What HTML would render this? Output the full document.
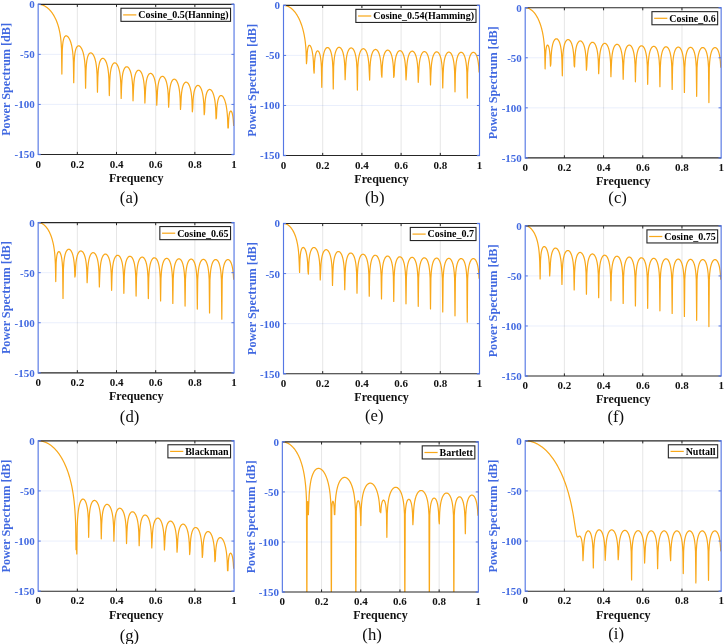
<!DOCTYPE html>
<html lang="en"><head><meta charset="utf-8"><title>Window power spectra</title>
<style>html,body{margin:0;padding:0;background:#fff;}body{width:725px;height:644px;overflow:hidden;}svg{display:block;}text{font-family:'Liberation Serif',serif;}.tk{font-size:11px;font-weight:bold;}.lb{font-size:12px;font-weight:bold;}.yl{font-size:12.2px;}.lg{font-size:10px;font-weight:bold;fill:#000;}.cp{font-size:16.7px;fill:#0d0d0d;}.bl{fill:#4169E1;}.bk{fill:#111;}</style></head><body>
<svg width="725" height="644" viewBox="0 0 725 644">
<rect width="725" height="644" fill="#fff"/>
<g id="panel-a">
<clipPath id="clip-a"><rect x="38.15" y="4.3" width="195.9" height="150.2"/></clipPath>
<line x1="77.33" y1="4.3" x2="77.33" y2="154.5" stroke="rgba(38,38,38,0.115)" stroke-width="1"/>
<line x1="116.51" y1="4.3" x2="116.51" y2="154.5" stroke="rgba(38,38,38,0.115)" stroke-width="1"/>
<line x1="155.69" y1="4.3" x2="155.69" y2="154.5" stroke="rgba(38,38,38,0.115)" stroke-width="1"/>
<line x1="194.87" y1="4.3" x2="194.87" y2="154.5" stroke="rgba(38,38,38,0.115)" stroke-width="1"/>
<line x1="38.15" y1="54.37" x2="234.05" y2="54.37" stroke="rgba(65,105,225,0.11)" stroke-width="1"/>
<line x1="38.15" y1="104.43" x2="234.05" y2="104.43" stroke="rgba(65,105,225,0.11)" stroke-width="1"/>
<path d="M38.15 4.3 L38.53 4.31 L38.92 4.32 L39.3 4.35 L39.68 4.39 L40.06 4.45 L40.45 4.51 L40.83 4.59 L41.21 4.67 L41.59 4.77 L41.98 4.89 L42.36 5.01 L42.74 5.15 L43.12 5.3 L43.51 5.46 L43.89 5.63 L44.27 5.82 L44.65 6.02 L45.04 6.23 L45.42 6.46 L45.8 6.7 L46.18 6.95 L46.57 7.22 L46.95 7.5 L47.33 7.8 L47.72 8.11 L48.1 8.43 L48.48 8.78 L48.86 9.14 L49.25 9.51 L49.63 9.91 L50.01 10.32 L50.39 10.75 L50.78 11.19 L51.16 11.66 L51.54 12.15 L51.92 12.66 L52.31 13.19 L52.69 13.75 L53.07 14.33 L53.45 14.94 L53.84 15.58 L54.22 16.24 L54.6 16.94 L54.99 17.68 L55.37 18.45 L55.75 19.26 L56.13 20.12 L56.52 21.03 L56.9 21.99 L57.28 23.02 L57.66 24.12 L58.05 25.3 L58.43 26.58 L58.81 27.98 L59.19 29.53 L59.58 31.27 L59.96 33.27 L60.34 35.62 L60.72 38.54 L61.11 42.45 L61.49 48.71 L61.87 74.11 L62.25 50.79 L62.64 45.03 L63.02 41.97 L63.4 40 L63.79 38.63 L64.17 37.65 L64.55 36.94 L64.93 36.44 L65.32 36.1 L65.7 35.9 L66.08 35.81 L66.46 35.84 L66.85 35.95 L67.23 36.16 L67.61 36.45 L67.99 36.82 L68.38 37.27 L68.76 37.82 L69.14 38.45 L69.52 39.17 L69.91 40 L70.29 40.95 L70.67 42.04 L71.06 43.29 L71.44 44.74 L71.82 46.46 L72.2 48.54 L72.59 51.19 L72.97 54.83 L73.35 60.75 L73.73 82.65 L74.12 62.94 L74.5 56.82 L74.88 53.53 L75.26 51.35 L75.65 49.79 L76.03 48.63 L76.41 47.74 L76.79 47.07 L77.18 46.58 L77.56 46.22 L77.94 45.99 L78.32 45.87 L78.71 45.84 L79.09 45.91 L79.47 46.07 L79.86 46.32 L80.24 46.65 L80.62 47.07 L81 47.58 L81.39 48.2 L81.77 48.91 L82.15 49.75 L82.53 50.73 L82.92 51.87 L83.3 53.22 L83.68 54.83 L84.06 56.81 L84.45 59.35 L84.83 62.85 L85.21 68.57 L85.59 88.13 L85.98 71.13 L86.36 64.78 L86.74 61.35 L87.12 59.07 L87.51 57.42 L87.89 56.17 L88.27 55.21 L88.66 54.46 L89.04 53.89 L89.42 53.46 L89.8 53.16 L90.19 52.97 L90.57 52.88 L90.95 52.88 L91.33 52.97 L91.72 53.16 L92.1 53.43 L92.48 53.79 L92.86 54.24 L93.25 54.79 L93.63 55.45 L94.01 56.23 L94.39 57.15 L94.78 58.24 L95.16 59.52 L95.54 61.08 L95.93 62.99 L96.31 65.46 L96.69 68.87 L97.07 74.44 L97.46 92.23 L97.84 77.43 L98.22 70.87 L98.6 67.35 L98.99 65.01 L99.37 63.3 L99.75 61.99 L100.13 60.98 L100.52 60.19 L100.9 59.57 L101.28 59.1 L101.66 58.75 L102.05 58.52 L102.43 58.39 L102.81 58.35 L103.19 58.41 L103.58 58.55 L103.96 58.78 L104.34 59.1 L104.73 59.52 L105.11 60.03 L105.49 60.65 L105.87 61.4 L106.26 62.28 L106.64 63.32 L107.02 64.57 L107.4 66.08 L107.79 67.96 L108.17 70.37 L108.55 73.72 L108.93 79.15 L109.32 95.55 L109.7 82.62 L110.08 75.86 L110.46 72.26 L110.85 69.86 L111.23 68.11 L111.61 66.77 L112 65.72 L112.38 64.9 L112.76 64.25 L113.14 63.75 L113.53 63.37 L113.91 63.11 L114.29 62.95 L114.67 62.88 L115.06 62.91 L115.44 63.03 L115.82 63.23 L116.2 63.53 L116.59 63.92 L116.97 64.4 L117.35 65 L117.73 65.72 L118.12 66.57 L118.5 67.59 L118.88 68.81 L119.26 70.29 L119.65 72.13 L120.03 74.5 L120.41 77.79 L120.8 83.1 L121.18 98.36 L121.56 87.08 L121.94 80.12 L122.33 76.44 L122.71 74 L123.09 72.21 L123.47 70.84 L123.86 69.77 L124.24 68.92 L124.62 68.25 L125 67.73 L125.39 67.33 L125.77 67.05 L126.15 66.87 L126.53 66.78 L126.92 66.79 L127.3 66.89 L127.68 67.07 L128.07 67.35 L128.45 67.72 L128.83 68.19 L129.21 68.76 L129.6 69.46 L129.98 70.3 L130.36 71.29 L130.74 72.49 L131.13 73.95 L131.51 75.76 L131.89 78.1 L132.27 81.33 L132.66 86.53 L133.04 100.83 L133.42 91.04 L133.8 83.87 L134.19 80.13 L134.57 77.64 L134.95 75.83 L135.33 74.44 L135.72 73.34 L136.1 72.47 L136.48 71.78 L136.87 71.24 L137.25 70.83 L137.63 70.53 L138.01 70.34 L138.4 70.24 L138.78 70.23 L139.16 70.31 L139.54 70.48 L139.93 70.75 L140.31 71.1 L140.69 71.56 L141.07 72.12 L141.46 72.8 L141.84 73.62 L142.22 74.6 L142.6 75.79 L142.99 77.22 L143.37 79.01 L143.75 81.32 L144.13 84.51 L144.52 89.6 L144.9 103.08 L145.28 94.65 L145.67 87.27 L146.05 83.46 L146.43 80.94 L146.81 79.1 L147.2 77.69 L147.58 76.58 L147.96 75.7 L148.34 74.99 L148.73 74.44 L149.11 74.02 L149.49 73.71 L149.87 73.5 L150.26 73.39 L150.64 73.37 L151.02 73.44 L151.4 73.6 L151.79 73.86 L152.17 74.2 L152.55 74.65 L152.94 75.2 L153.32 75.87 L153.7 76.68 L154.08 77.65 L154.47 78.82 L154.85 80.24 L155.23 82.01 L155.61 84.29 L156 87.44 L156.38 92.43 L156.76 105.19 L157.14 98.05 L157.53 90.44 L157.91 86.57 L158.29 84.01 L158.67 82.15 L159.06 80.73 L159.44 79.6 L159.82 78.71 L160.2 78 L160.59 77.43 L160.97 77 L161.35 76.68 L161.74 76.47 L162.12 76.35 L162.5 76.33 L162.88 76.39 L163.27 76.55 L163.65 76.79 L164.03 77.13 L164.41 77.57 L164.8 78.11 L165.18 78.78 L165.56 79.58 L165.94 80.54 L166.33 81.7 L166.71 83.11 L167.09 84.86 L167.47 87.12 L167.86 90.23 L168.24 95.14 L168.62 107.26 L169.01 101.33 L169.39 93.49 L169.77 89.56 L170.15 86.98 L170.54 85.1 L170.92 83.66 L171.3 82.52 L171.68 81.62 L172.07 80.9 L172.45 80.34 L172.83 79.9 L173.21 79.58 L173.6 79.36 L173.98 79.24 L174.36 79.21 L174.74 79.27 L175.13 79.43 L175.51 79.67 L175.89 80 L176.27 80.44 L176.66 80.98 L177.04 81.64 L177.42 82.44 L177.81 83.4 L178.19 84.55 L178.57 85.95 L178.95 87.7 L179.34 89.94 L179.72 93.02 L180.1 97.84 L180.48 109.4 L180.87 104.64 L181.25 96.55 L181.63 92.56 L182.01 89.96 L182.4 88.06 L182.78 86.62 L183.16 85.48 L183.54 84.58 L183.93 83.86 L184.31 83.29 L184.69 82.85 L185.08 82.53 L185.46 82.31 L185.84 82.2 L186.22 82.17 L186.61 82.24 L186.99 82.39 L187.37 82.64 L187.75 82.98 L188.14 83.41 L188.52 83.96 L188.9 84.62 L189.28 85.42 L189.67 86.38 L190.05 87.54 L190.43 88.94 L190.81 90.68 L191.2 92.91 L191.58 95.96 L191.96 100.72 L192.34 111.78 L192.73 108.15 L193.11 99.81 L193.49 95.77 L193.88 93.14 L194.26 91.24 L194.64 89.8 L195.02 88.66 L195.41 87.77 L195.79 87.05 L196.17 86.49 L196.55 86.07 L196.94 85.76 L197.32 85.55 L197.7 85.45 L198.08 85.43 L198.47 85.51 L198.85 85.68 L199.23 85.94 L199.61 86.29 L200 86.74 L200.38 87.3 L200.76 87.98 L201.14 88.8 L201.53 89.77 L201.91 90.94 L202.29 92.35 L202.68 94.1 L203.06 96.34 L203.44 99.38 L203.82 104.07 L204.21 114.71 L204.59 112.18 L204.97 103.59 L205.35 99.51 L205.74 96.88 L206.12 95 L206.5 93.57 L206.88 92.45 L207.27 91.58 L207.65 90.89 L208.03 90.36 L208.41 89.97 L208.8 89.69 L209.18 89.51 L209.56 89.44 L209.95 89.46 L210.33 89.58 L210.71 89.78 L211.09 90.08 L211.48 90.47 L211.86 90.97 L212.24 91.57 L212.62 92.29 L213.01 93.15 L213.39 94.17 L213.77 95.38 L214.15 96.84 L214.54 98.64 L214.92 100.91 L215.3 103.98 L215.68 108.67 L216.07 118.95 L216.45 117.56 L216.83 108.73 L217.21 104.66 L217.6 102.08 L217.98 100.25 L218.36 98.9 L218.75 97.86 L219.13 97.07 L219.51 96.47 L219.89 96.04 L220.28 95.74 L220.66 95.56 L221.04 95.5 L221.42 95.54 L221.81 95.68 L222.19 95.92 L222.57 96.26 L222.95 96.7 L223.34 97.25 L223.72 97.9 L224.1 98.67 L224.48 99.57 L224.87 100.61 L225.25 101.83 L225.63 103.25 L226.02 104.94 L226.4 106.97 L226.78 109.49 L227.16 112.82 L227.55 117.74 L227.93 127.97 L228.31 128.01 L228.69 119.26 L229.08 115.56 L229.46 113.44 L229.84 112.14 L230.22 111.38 L230.61 111.04 L230.99 111.04 L231.37 111.36 L231.75 112.02 L232.14 113.06 L232.52 114.57 L232.9 116.75 L233.28 120.05 L233.67 125.94" fill="none" stroke="#F9A81A" stroke-width="1.22" stroke-linejoin="round" clip-path="url(#clip-a)"/>
<line x1="38.15" y1="4.3" x2="234.05" y2="4.3" stroke="#262626" stroke-width="1.15"/>
<line x1="38.15" y1="154.5" x2="234.05" y2="154.5" stroke="#262626" stroke-width="1.15"/>
<line x1="77.33" y1="4.3" x2="77.33" y2="6.9" stroke="#262626" stroke-width="1"/>
<line x1="77.33" y1="154.5" x2="77.33" y2="151.9" stroke="#262626" stroke-width="1"/>
<line x1="116.51" y1="4.3" x2="116.51" y2="6.9" stroke="#262626" stroke-width="1"/>
<line x1="116.51" y1="154.5" x2="116.51" y2="151.9" stroke="#262626" stroke-width="1"/>
<line x1="155.69" y1="4.3" x2="155.69" y2="6.9" stroke="#262626" stroke-width="1"/>
<line x1="155.69" y1="154.5" x2="155.69" y2="151.9" stroke="#262626" stroke-width="1"/>
<line x1="194.87" y1="4.3" x2="194.87" y2="6.9" stroke="#262626" stroke-width="1"/>
<line x1="194.87" y1="154.5" x2="194.87" y2="151.9" stroke="#262626" stroke-width="1"/>
<line x1="38.15" y1="4.3" x2="38.15" y2="154.5" stroke="#5577E4" stroke-width="1.15" stroke-linecap="square"/>
<line x1="234.05" y1="4.3" x2="234.05" y2="154.5" stroke="#5577E4" stroke-width="1.15" stroke-linecap="square"/>
<line x1="38.15" y1="4.3" x2="40.75" y2="4.3" stroke="#5577E4" stroke-width="1.3"/>
<line x1="234.05" y1="4.3" x2="231.45" y2="4.3" stroke="#5577E4" stroke-width="1.3"/>
<line x1="38.15" y1="54.37" x2="40.75" y2="54.37" stroke="#5577E4" stroke-width="1"/>
<line x1="234.05" y1="54.37" x2="231.45" y2="54.37" stroke="#5577E4" stroke-width="1"/>
<line x1="38.15" y1="104.43" x2="40.75" y2="104.43" stroke="#5577E4" stroke-width="1"/>
<line x1="234.05" y1="104.43" x2="231.45" y2="104.43" stroke="#5577E4" stroke-width="1"/>
<line x1="38.15" y1="154.5" x2="40.75" y2="154.5" stroke="#5577E4" stroke-width="1.3"/>
<line x1="234.05" y1="154.5" x2="231.45" y2="154.5" stroke="#5577E4" stroke-width="1.3"/>
<text class="tk bk" x="38.15" y="167.5" text-anchor="middle">0</text>
<text class="tk bk" x="77.33" y="167.5" text-anchor="middle">0.2</text>
<text class="tk bk" x="116.51" y="167.5" text-anchor="middle">0.4</text>
<text class="tk bk" x="155.69" y="167.5" text-anchor="middle">0.6</text>
<text class="tk bk" x="194.87" y="167.5" text-anchor="middle">0.8</text>
<text class="tk bk" x="234.05" y="167.5" text-anchor="middle">1</text>
<text class="tk bl" x="34.75" y="8.25" text-anchor="end">0</text>
<text class="tk bl" x="34.75" y="58.32" text-anchor="end">-50</text>
<text class="tk bl" x="34.75" y="108.38" text-anchor="end">-100</text>
<text class="tk bl" x="34.75" y="158.45" text-anchor="end">-150</text>
<text class="lb bk" x="136.2" y="181.9" text-anchor="middle">Frequency</text>
<text class="lb yl bl" transform="translate(10.25 79.4) rotate(-90)" text-anchor="middle">Power Spectrum [dB]</text>
<rect x="120.95" y="8.25" width="109.6" height="13.1" fill="#fff" stroke="#262626" stroke-width="1.1"/>
<line x1="123.15" y1="14.9" x2="136.35" y2="14.9" stroke="#F9A81A" stroke-width="1.22"/>
<text class="lg" x="138.25" y="18.25">Cosine_0.5(Hanning)</text>
<text class="cp" x="129.1" y="202.7" text-anchor="middle">(a)</text>
</g>
<g id="panel-b">
<clipPath id="clip-b"><rect x="283.5" y="5.4" width="196" height="150.1"/></clipPath>
<line x1="322.7" y1="5.4" x2="322.7" y2="155.5" stroke="rgba(38,38,38,0.115)" stroke-width="1"/>
<line x1="361.9" y1="5.4" x2="361.9" y2="155.5" stroke="rgba(38,38,38,0.115)" stroke-width="1"/>
<line x1="401.1" y1="5.4" x2="401.1" y2="155.5" stroke="rgba(38,38,38,0.115)" stroke-width="1"/>
<line x1="440.3" y1="5.4" x2="440.3" y2="155.5" stroke="rgba(38,38,38,0.115)" stroke-width="1"/>
<line x1="283.5" y1="55.43" x2="479.5" y2="55.43" stroke="rgba(65,105,225,0.11)" stroke-width="1"/>
<line x1="283.5" y1="105.47" x2="479.5" y2="105.47" stroke="rgba(65,105,225,0.11)" stroke-width="1"/>
<path d="M283.5 5.4 L283.88 5.41 L284.27 5.43 L284.65 5.46 L285.03 5.51 L285.41 5.58 L285.8 5.65 L286.18 5.74 L286.56 5.85 L286.95 5.97 L287.33 6.1 L287.71 6.25 L288.09 6.42 L288.48 6.6 L288.86 6.79 L289.24 7 L289.62 7.23 L290.01 7.47 L290.39 7.72 L290.77 8 L291.16 8.28 L291.54 8.59 L291.92 8.91 L292.3 9.25 L292.69 9.61 L293.07 9.99 L293.45 10.39 L293.84 10.8 L294.22 11.24 L294.6 11.69 L294.98 12.17 L295.37 12.67 L295.75 13.2 L296.13 13.74 L296.52 14.31 L296.9 14.91 L297.28 15.54 L297.66 16.19 L298.05 16.87 L298.43 17.59 L298.81 18.34 L299.2 19.12 L299.58 19.95 L299.96 20.81 L300.34 21.73 L300.73 22.69 L301.11 23.7 L301.49 24.78 L301.88 25.92 L302.26 27.14 L302.64 28.45 L303.02 29.86 L303.41 31.39 L303.79 33.06 L304.17 34.93 L304.55 37.03 L304.94 39.47 L305.32 42.4 L305.7 46.15 L306.09 51.64 L306.47 63.69 L306.85 60.08 L307.23 52.61 L307.62 49.33 L308 47.46 L308.38 46.32 L308.77 45.66 L309.15 45.34 L309.53 45.29 L309.91 45.47 L310.3 45.87 L310.68 46.48 L311.06 47.29 L311.45 48.35 L311.83 49.69 L312.21 51.37 L312.59 53.54 L312.98 56.48 L313.36 60.88 L313.74 69.71 L314.12 73.1 L314.51 62.7 L314.89 58.41 L315.27 55.83 L315.66 54.08 L316.04 52.85 L316.42 51.98 L316.8 51.4 L317.19 51.05 L317.57 50.91 L317.95 50.96 L318.34 51.2 L318.72 51.63 L319.1 52.28 L319.48 53.17 L319.87 54.36 L320.25 55.95 L320.63 58.12 L321.02 61.31 L321.4 66.77 L321.78 87.35 L322.16 68.37 L322.55 61.85 L322.93 58.19 L323.31 55.67 L323.7 53.79 L324.08 52.32 L324.46 51.14 L324.84 50.18 L325.23 49.41 L325.61 48.8 L325.99 48.31 L326.38 47.95 L326.76 47.69 L327.14 47.54 L327.52 47.49 L327.91 47.53 L328.29 47.68 L328.67 47.93 L329.05 48.28 L329.44 48.76 L329.82 49.36 L330.2 50.11 L330.59 51.04 L330.97 52.19 L331.35 53.63 L331.73 55.46 L332.12 57.92 L332.5 61.49 L332.88 67.85 L333.27 88.95 L333.65 66.45 L334.03 60.81 L334.41 57.48 L334.8 55.15 L335.18 53.39 L335.56 52.01 L335.95 50.89 L336.33 49.99 L336.71 49.25 L337.09 48.66 L337.48 48.19 L337.86 47.83 L338.24 47.56 L338.62 47.4 L339.01 47.32 L339.39 47.34 L339.77 47.44 L340.16 47.63 L340.54 47.91 L340.92 48.29 L341.3 48.78 L341.69 49.39 L342.07 50.14 L342.45 51.05 L342.84 52.16 L343.22 53.53 L343.6 55.25 L343.98 57.49 L344.37 60.63 L344.75 65.71 L345.13 79.72 L345.52 70.17 L345.9 62.87 L346.28 59.03 L346.66 56.45 L347.05 54.54 L347.43 53.06 L347.81 51.87 L348.2 50.91 L348.58 50.12 L348.96 49.49 L349.34 48.98 L349.73 48.58 L350.11 48.29 L350.49 48.09 L350.88 47.98 L351.26 47.95 L351.64 48.01 L352.02 48.16 L352.41 48.4 L352.79 48.73 L353.17 49.16 L353.55 49.7 L353.94 50.36 L354.32 51.17 L354.7 52.15 L355.09 53.34 L355.47 54.82 L355.85 56.69 L356.23 59.18 L356.62 62.79 L357 69.18 L357.38 90.09 L357.77 67.79 L358.15 62.18 L358.53 58.87 L358.91 56.55 L359.3 54.81 L359.68 53.43 L360.06 52.33 L360.45 51.43 L360.83 50.69 L361.21 50.1 L361.59 49.63 L361.98 49.26 L362.36 48.99 L362.74 48.82 L363.12 48.73 L363.51 48.73 L363.89 48.81 L364.27 48.98 L364.66 49.24 L365.04 49.59 L365.42 50.05 L365.8 50.61 L366.19 51.31 L366.57 52.15 L366.95 53.17 L367.34 54.42 L367.72 55.96 L368.1 57.94 L368.48 60.6 L368.87 64.56 L369.25 72.18 L369.63 80.03 L370.02 67.08 L370.4 62.16 L370.78 59.11 L371.16 56.94 L371.55 55.28 L371.93 53.96 L372.31 52.9 L372.7 52.03 L373.08 51.33 L373.46 50.76 L373.84 50.3 L374.23 49.95 L374.61 49.7 L374.99 49.54 L375.38 49.47 L375.76 49.48 L376.14 49.57 L376.52 49.76 L376.91 50.03 L377.29 50.39 L377.67 50.86 L378.05 51.44 L378.44 52.15 L378.82 53.02 L379.2 54.07 L379.59 55.35 L379.97 56.95 L380.35 59 L380.73 61.79 L381.12 66.05 L381.5 74.88 L381.88 77.22 L382.27 66.87 L382.65 62.35 L383.03 59.46 L383.41 57.37 L383.8 55.77 L384.18 54.49 L384.56 53.46 L384.95 52.61 L385.33 51.92 L385.71 51.37 L386.09 50.93 L386.48 50.59 L386.86 50.35 L387.24 50.19 L387.62 50.13 L388.01 50.15 L388.39 50.25 L388.77 50.44 L389.16 50.72 L389.54 51.09 L389.92 51.57 L390.3 52.16 L390.69 52.89 L391.07 53.77 L391.45 54.84 L391.84 56.15 L392.22 57.78 L392.6 59.9 L392.98 62.8 L393.37 67.31 L393.75 77.4 L394.13 75.87 L394.52 66.85 L394.9 62.59 L395.28 59.81 L395.66 57.79 L396.05 56.22 L396.43 54.97 L396.81 53.96 L397.2 53.13 L397.58 52.45 L397.96 51.9 L398.34 51.47 L398.73 51.14 L399.11 50.91 L399.49 50.76 L399.88 50.7 L400.26 50.72 L400.64 50.83 L401.02 51.03 L401.41 51.31 L401.79 51.69 L402.17 52.18 L402.55 52.78 L402.94 53.52 L403.32 54.41 L403.7 55.49 L404.09 56.83 L404.47 58.49 L404.85 60.66 L405.23 63.66 L405.62 68.4 L406 79.84 L406.38 75.08 L406.77 66.9 L407.15 62.82 L407.53 60.13 L407.91 58.15 L408.3 56.61 L408.68 55.38 L409.06 54.38 L409.45 53.57 L409.83 52.9 L410.21 52.36 L410.59 51.93 L410.98 51.61 L411.36 51.38 L411.74 51.24 L412.12 51.18 L412.51 51.21 L412.89 51.32 L413.27 51.52 L413.66 51.81 L414.04 52.2 L414.42 52.69 L414.8 53.3 L415.19 54.04 L415.57 54.94 L415.95 56.04 L416.34 57.39 L416.72 59.09 L417.1 61.3 L417.48 64.39 L417.87 69.34 L418.25 82.3 L418.63 74.53 L419.02 66.94 L419.4 63.01 L419.78 60.39 L420.16 58.44 L420.55 56.93 L420.93 55.72 L421.31 54.73 L421.7 53.92 L422.08 53.27 L422.46 52.73 L422.84 52.31 L423.23 51.99 L423.61 51.76 L423.99 51.63 L424.38 51.57 L424.76 51.61 L425.14 51.72 L425.52 51.92 L425.91 52.22 L426.29 52.61 L426.67 53.1 L427.05 53.72 L427.44 54.47 L427.82 55.38 L428.2 56.49 L428.59 57.86 L428.97 59.58 L429.35 61.84 L429.73 65 L430.12 70.15 L430.5 84.93 L430.88 74.11 L431.27 66.96 L431.65 63.15 L432.03 60.58 L432.41 58.67 L432.8 57.18 L433.18 55.98 L433.56 55.01 L433.95 54.21 L434.33 53.55 L434.71 53.03 L435.09 52.61 L435.48 52.29 L435.86 52.07 L436.24 51.93 L436.62 51.88 L437.01 51.92 L437.39 52.04 L437.77 52.24 L438.16 52.54 L438.54 52.93 L438.92 53.43 L439.3 54.05 L439.69 54.81 L440.07 55.73 L440.45 56.85 L440.84 58.24 L441.22 59.98 L441.6 62.28 L441.98 65.51 L442.37 70.87 L442.75 87.95 L443.13 73.72 L443.52 66.94 L443.9 63.23 L444.28 60.71 L444.66 58.83 L445.05 57.35 L445.43 56.17 L445.81 55.2 L446.2 54.41 L446.58 53.76 L446.96 53.24 L447.34 52.83 L447.73 52.51 L448.11 52.29 L448.49 52.16 L448.88 52.11 L449.26 52.15 L449.64 52.27 L450.02 52.48 L450.41 52.78 L450.79 53.18 L451.17 53.68 L451.55 54.31 L451.94 55.07 L452.32 56 L452.7 57.13 L453.09 58.53 L453.47 60.3 L453.85 62.63 L454.23 65.93 L454.62 71.49 L455 91.84 L455.38 73.35 L455.77 66.87 L456.15 63.25 L456.53 60.77 L456.91 58.92 L457.3 57.46 L457.68 56.28 L458.06 55.33 L458.45 54.54 L458.83 53.9 L459.21 53.38 L459.59 52.97 L459.98 52.66 L460.36 52.44 L460.74 52.31 L461.12 52.26 L461.51 52.3 L461.89 52.43 L462.27 52.64 L462.66 52.94 L463.04 53.34 L463.42 53.85 L463.8 54.48 L464.19 55.25 L464.57 56.18 L464.95 57.32 L465.34 58.74 L465.72 60.53 L466.1 62.89 L466.48 66.27 L466.87 72.04 L467.25 98.08 L467.63 72.95 L468.02 66.73 L468.4 63.2 L468.78 60.76 L469.16 58.93 L469.55 57.49 L469.93 56.32 L470.31 55.37 L470.7 54.59 L471.08 53.96 L471.46 53.44 L471.84 53.03 L472.23 52.73 L472.61 52.51 L472.99 52.38 L473.38 52.34 L473.76 52.38 L474.14 52.51 L474.52 52.72 L474.91 53.02 L475.29 53.43 L475.67 53.94 L476.05 54.57 L476.44 55.35 L476.82 56.29 L477.2 57.44 L477.59 58.87 L477.97 60.68 L478.35 63.09 L478.73 66.54 L479.12 72.52" fill="none" stroke="#F9A81A" stroke-width="1.22" stroke-linejoin="round" clip-path="url(#clip-b)"/>
<line x1="283.5" y1="5.4" x2="479.5" y2="5.4" stroke="#262626" stroke-width="1.15"/>
<line x1="283.5" y1="155.5" x2="479.5" y2="155.5" stroke="#262626" stroke-width="1.15"/>
<line x1="322.7" y1="5.4" x2="322.7" y2="8" stroke="#262626" stroke-width="1"/>
<line x1="322.7" y1="155.5" x2="322.7" y2="152.9" stroke="#262626" stroke-width="1"/>
<line x1="361.9" y1="5.4" x2="361.9" y2="8" stroke="#262626" stroke-width="1"/>
<line x1="361.9" y1="155.5" x2="361.9" y2="152.9" stroke="#262626" stroke-width="1"/>
<line x1="401.1" y1="5.4" x2="401.1" y2="8" stroke="#262626" stroke-width="1"/>
<line x1="401.1" y1="155.5" x2="401.1" y2="152.9" stroke="#262626" stroke-width="1"/>
<line x1="440.3" y1="5.4" x2="440.3" y2="8" stroke="#262626" stroke-width="1"/>
<line x1="440.3" y1="155.5" x2="440.3" y2="152.9" stroke="#262626" stroke-width="1"/>
<line x1="283.5" y1="5.4" x2="283.5" y2="155.5" stroke="#5577E4" stroke-width="1.15" stroke-linecap="square"/>
<line x1="479.5" y1="5.4" x2="479.5" y2="155.5" stroke="#5577E4" stroke-width="1.15" stroke-linecap="square"/>
<line x1="283.5" y1="5.4" x2="286.1" y2="5.4" stroke="#5577E4" stroke-width="1.3"/>
<line x1="479.5" y1="5.4" x2="476.9" y2="5.4" stroke="#5577E4" stroke-width="1.3"/>
<line x1="283.5" y1="55.43" x2="286.1" y2="55.43" stroke="#5577E4" stroke-width="1"/>
<line x1="479.5" y1="55.43" x2="476.9" y2="55.43" stroke="#5577E4" stroke-width="1"/>
<line x1="283.5" y1="105.47" x2="286.1" y2="105.47" stroke="#5577E4" stroke-width="1"/>
<line x1="479.5" y1="105.47" x2="476.9" y2="105.47" stroke="#5577E4" stroke-width="1"/>
<line x1="283.5" y1="155.5" x2="286.1" y2="155.5" stroke="#5577E4" stroke-width="1.3"/>
<line x1="479.5" y1="155.5" x2="476.9" y2="155.5" stroke="#5577E4" stroke-width="1.3"/>
<text class="tk bk" x="283.5" y="168.5" text-anchor="middle">0</text>
<text class="tk bk" x="322.7" y="168.5" text-anchor="middle">0.2</text>
<text class="tk bk" x="361.9" y="168.5" text-anchor="middle">0.4</text>
<text class="tk bk" x="401.1" y="168.5" text-anchor="middle">0.6</text>
<text class="tk bk" x="440.3" y="168.5" text-anchor="middle">0.8</text>
<text class="tk bk" x="479.5" y="168.5" text-anchor="middle">1</text>
<text class="tk bl" x="280.1" y="9.35" text-anchor="end">0</text>
<text class="tk bl" x="280.1" y="59.38" text-anchor="end">-50</text>
<text class="tk bl" x="280.1" y="109.42" text-anchor="end">-100</text>
<text class="tk bl" x="280.1" y="159.45" text-anchor="end">-150</text>
<text class="lb bk" x="381.6" y="182.9" text-anchor="middle">Frequency</text>
<text class="lb yl bl" transform="translate(256.3 80.45) rotate(-90)" text-anchor="middle">Power Spectrum [dB]</text>
<rect x="355.86" y="9.35" width="120.14" height="13.1" fill="#fff" stroke="#262626" stroke-width="1.1"/>
<line x1="358.06" y1="16" x2="371.26" y2="16" stroke="#F9A81A" stroke-width="1.22"/>
<text class="lg" x="373.16" y="19.35">Cosine_0.54(Hamming)</text>
<text class="cp" x="374.8" y="203" text-anchor="middle">(b)</text>
</g>
<g id="panel-c">
<clipPath id="clip-c"><rect x="525.2" y="7.7" width="195.95" height="150.2"/></clipPath>
<line x1="564.39" y1="7.7" x2="564.39" y2="157.9" stroke="rgba(38,38,38,0.115)" stroke-width="1"/>
<line x1="603.58" y1="7.7" x2="603.58" y2="157.9" stroke="rgba(38,38,38,0.115)" stroke-width="1"/>
<line x1="642.77" y1="7.7" x2="642.77" y2="157.9" stroke="rgba(38,38,38,0.115)" stroke-width="1"/>
<line x1="681.96" y1="7.7" x2="681.96" y2="157.9" stroke="rgba(38,38,38,0.115)" stroke-width="1"/>
<line x1="525.2" y1="57.77" x2="721.15" y2="57.77" stroke="rgba(65,105,225,0.11)" stroke-width="1"/>
<line x1="525.2" y1="107.83" x2="721.15" y2="107.83" stroke="rgba(65,105,225,0.11)" stroke-width="1"/>
<path d="M525.2 7.7 L525.58 7.71 L525.97 7.73 L526.35 7.78 L526.73 7.84 L527.11 7.91 L527.5 8.01 L527.88 8.12 L528.26 8.25 L528.64 8.39 L529.03 8.56 L529.41 8.74 L529.79 8.94 L530.18 9.16 L530.56 9.4 L530.94 9.66 L531.32 9.93 L531.71 10.23 L532.09 10.55 L532.47 10.89 L532.85 11.25 L533.24 11.63 L533.62 12.04 L534 12.47 L534.39 12.92 L534.77 13.4 L535.15 13.91 L535.53 14.44 L535.92 15.01 L536.3 15.6 L536.68 16.23 L537.06 16.89 L537.45 17.58 L537.83 18.32 L538.21 19.1 L538.6 19.92 L538.98 20.79 L539.36 21.71 L539.74 22.69 L540.13 23.73 L540.51 24.85 L540.89 26.05 L541.27 27.34 L541.66 28.74 L542.04 30.28 L542.42 31.97 L542.8 33.86 L543.19 36.01 L543.57 38.53 L543.95 41.6 L544.34 45.61 L544.72 51.72 L545.1 68.86 L545.48 56.6 L545.87 50.6 L546.25 47.8 L546.63 46.24 L547.01 45.4 L547.4 45.05 L547.78 45.1 L548.16 45.5 L548.55 46.28 L548.93 47.49 L549.31 49.25 L549.69 51.87 L550.08 56.15 L550.46 66.14 L550.84 64.17 L551.22 55.09 L551.61 50.73 L551.99 47.87 L552.37 45.77 L552.76 44.15 L553.14 42.87 L553.52 41.83 L553.9 40.99 L554.29 40.32 L554.67 39.78 L555.05 39.37 L555.43 39.08 L555.82 38.89 L556.2 38.8 L556.58 38.8 L556.97 38.9 L557.35 39.1 L557.73 39.4 L558.11 39.81 L558.5 40.34 L558.88 40.99 L559.26 41.79 L559.64 42.77 L560.03 43.98 L560.41 45.47 L560.79 47.38 L561.18 49.92 L561.56 53.63 L561.94 60.36 L562.32 75.78 L562.71 57.89 L563.09 52.52 L563.47 49.3 L563.85 47.04 L564.24 45.34 L564.62 44 L565 42.92 L565.39 42.05 L565.77 41.35 L566.15 40.78 L566.53 40.34 L566.92 40 L567.3 39.77 L567.68 39.62 L568.06 39.56 L568.45 39.59 L568.83 39.71 L569.21 39.91 L569.59 40.2 L569.98 40.59 L570.36 41.09 L570.74 41.69 L571.13 42.43 L571.51 43.32 L571.89 44.4 L572.27 45.72 L572.66 47.35 L573.04 49.45 L573.42 52.31 L573.8 56.67 L574.19 65.91 L574.57 66.99 L574.95 57.15 L575.34 52.74 L575.72 49.91 L576.1 47.86 L576.48 46.3 L576.87 45.05 L577.25 44.05 L577.63 43.24 L578.01 42.58 L578.4 42.05 L578.78 41.64 L579.16 41.33 L579.55 41.12 L579.93 41 L580.31 40.96 L580.69 41.01 L581.08 41.14 L581.46 41.36 L581.84 41.67 L582.22 42.07 L582.61 42.58 L582.99 43.21 L583.37 43.97 L583.76 44.88 L584.14 45.99 L584.52 47.35 L584.9 49.04 L585.29 51.22 L585.67 54.23 L586.05 58.95 L586.43 70.13 L586.82 66.02 L587.2 57.72 L587.58 53.63 L587.97 50.95 L588.35 48.98 L588.73 47.46 L589.11 46.25 L589.5 45.27 L589.88 44.48 L590.26 43.84 L590.64 43.32 L591.03 42.92 L591.41 42.61 L591.79 42.41 L592.18 42.29 L592.56 42.26 L592.94 42.31 L593.32 42.44 L593.71 42.67 L594.09 42.98 L594.47 43.39 L594.85 43.9 L595.24 44.54 L595.62 45.3 L596 46.23 L596.38 47.35 L596.77 48.72 L597.15 50.44 L597.53 52.68 L597.92 55.78 L598.3 60.74 L598.68 73.61 L599.06 66.09 L599.45 58.47 L599.83 54.55 L600.21 51.94 L600.59 50.02 L600.98 48.52 L601.36 47.33 L601.74 46.36 L602.13 45.58 L602.51 44.94 L602.89 44.43 L603.27 44.03 L603.66 43.73 L604.04 43.52 L604.42 43.4 L604.8 43.37 L605.19 43.42 L605.57 43.56 L605.95 43.78 L606.34 44.1 L606.72 44.51 L607.1 45.02 L607.48 45.66 L607.87 46.43 L608.25 47.36 L608.63 48.49 L609.01 49.87 L609.4 51.61 L609.78 53.88 L610.16 57.05 L610.55 62.18 L610.93 76.61 L611.31 66.41 L611.69 59.2 L612.08 55.38 L612.46 52.82 L612.84 50.92 L613.22 49.44 L613.61 48.26 L613.99 47.3 L614.37 46.52 L614.76 45.88 L615.14 45.37 L615.52 44.97 L615.9 44.67 L616.29 44.46 L616.67 44.35 L617.05 44.31 L617.43 44.36 L617.82 44.5 L618.2 44.72 L618.58 45.03 L618.97 45.44 L619.35 45.96 L619.73 46.6 L620.11 47.37 L620.5 48.3 L620.88 49.44 L621.26 50.83 L621.64 52.58 L622.03 54.88 L622.41 58.1 L622.79 63.38 L623.17 79.31 L623.56 66.77 L623.94 59.84 L624.32 56.1 L624.71 53.57 L625.09 51.69 L625.47 50.22 L625.85 49.04 L626.24 48.09 L626.62 47.31 L627 46.67 L627.38 46.16 L627.77 45.76 L628.15 45.46 L628.53 45.26 L628.92 45.14 L629.3 45.1 L629.68 45.15 L630.06 45.29 L630.45 45.51 L630.83 45.82 L631.21 46.23 L631.59 46.75 L631.98 47.38 L632.36 48.15 L632.74 49.09 L633.13 50.23 L633.51 51.63 L633.89 53.4 L634.27 55.71 L634.66 58.97 L635.04 64.37 L635.42 81.83 L635.8 67.12 L636.19 60.39 L636.57 56.71 L636.95 54.2 L637.34 52.33 L637.72 50.87 L638.1 49.7 L638.48 48.75 L638.87 47.97 L639.25 47.33 L639.63 46.82 L640.01 46.42 L640.4 46.12 L640.78 45.92 L641.16 45.79 L641.55 45.76 L641.93 45.81 L642.31 45.94 L642.69 46.16 L643.08 46.47 L643.46 46.88 L643.84 47.4 L644.22 48.03 L644.61 48.81 L644.99 49.75 L645.37 50.89 L645.76 52.29 L646.14 54.07 L646.52 56.4 L646.9 59.69 L647.29 65.19 L647.67 84.27 L648.05 67.42 L648.43 60.84 L648.82 57.21 L649.2 54.72 L649.58 52.86 L649.97 51.41 L650.35 50.24 L650.73 49.29 L651.11 48.51 L651.5 47.88 L651.88 47.37 L652.26 46.97 L652.64 46.67 L653.03 46.46 L653.41 46.34 L653.79 46.3 L654.17 46.35 L654.56 46.48 L654.94 46.7 L655.32 47.01 L655.71 47.42 L656.09 47.93 L656.47 48.57 L656.85 49.34 L657.24 50.28 L657.62 51.43 L658 52.84 L658.38 54.62 L658.77 56.96 L659.15 60.29 L659.53 65.88 L659.92 86.74 L660.3 67.65 L660.68 61.21 L661.06 57.61 L661.45 55.14 L661.83 53.29 L662.21 51.85 L662.59 50.68 L662.98 49.73 L663.36 48.95 L663.74 48.32 L664.13 47.81 L664.51 47.41 L664.89 47.11 L665.27 46.9 L665.66 46.77 L666.04 46.74 L666.42 46.78 L666.8 46.91 L667.19 47.13 L667.57 47.44 L667.95 47.85 L668.34 48.36 L668.72 49 L669.1 49.77 L669.48 50.71 L669.87 51.86 L670.25 53.28 L670.63 55.06 L671.01 57.42 L671.4 60.78 L671.78 66.46 L672.16 89.37 L672.55 67.82 L672.93 61.48 L673.31 57.92 L673.69 55.47 L674.08 53.63 L674.46 52.18 L674.84 51.02 L675.22 50.07 L675.61 49.3 L675.99 48.66 L676.37 48.15 L676.76 47.75 L677.14 47.45 L677.52 47.24 L677.9 47.11 L678.29 47.07 L678.67 47.12 L679.05 47.25 L679.43 47.47 L679.82 47.78 L680.2 48.18 L680.58 48.7 L680.96 49.33 L681.35 50.11 L681.73 51.05 L682.11 52.2 L682.5 53.62 L682.88 55.41 L683.26 57.78 L683.64 61.16 L684.03 66.92 L684.41 92.39 L684.79 67.92 L685.17 61.68 L685.56 58.15 L685.94 55.71 L686.32 53.87 L686.71 52.43 L687.09 51.27 L687.47 50.33 L687.85 49.55 L688.24 48.92 L688.62 48.41 L689 48 L689.38 47.7 L689.77 47.49 L690.15 47.36 L690.53 47.32 L690.92 47.37 L691.3 47.5 L691.68 47.71 L692.06 48.02 L692.45 48.43 L692.83 48.94 L693.21 49.58 L693.59 50.35 L693.98 51.29 L694.36 52.44 L694.74 53.87 L695.13 55.67 L695.51 58.05 L695.89 61.46 L696.27 67.29 L696.66 96.28 L697.04 67.94 L697.42 61.79 L697.8 58.29 L698.19 55.86 L698.57 54.04 L698.95 52.6 L699.34 51.44 L699.72 50.5 L700.1 49.72 L700.48 49.09 L700.87 48.57 L701.25 48.17 L701.63 47.87 L702.01 47.65 L702.4 47.53 L702.78 47.49 L703.16 47.53 L703.55 47.66 L703.93 47.87 L704.31 48.18 L704.69 48.59 L705.08 49.1 L705.46 49.73 L705.84 50.51 L706.22 51.45 L706.61 52.6 L706.99 54.03 L707.37 55.84 L707.75 58.23 L708.14 61.66 L708.52 67.57 L708.9 102.52 L709.29 67.9 L709.67 61.83 L710.05 58.35 L710.43 55.93 L710.82 54.11 L711.2 52.68 L711.58 51.53 L711.96 50.58 L712.35 49.81 L712.73 49.17 L713.11 48.66 L713.5 48.25 L713.88 47.95 L714.26 47.74 L714.64 47.61 L715.03 47.57 L715.41 47.61 L715.79 47.74 L716.17 47.95 L716.56 48.26 L716.94 48.66 L717.32 49.18 L717.71 49.81 L718.09 50.59 L718.47 51.53 L718.85 52.68 L719.24 54.11 L719.62 55.93 L720 58.33 L720.38 61.79 L720.77 67.77" fill="none" stroke="#F9A81A" stroke-width="1.22" stroke-linejoin="round" clip-path="url(#clip-c)"/>
<line x1="525.2" y1="7.7" x2="721.15" y2="7.7" stroke="#262626" stroke-width="1.15"/>
<line x1="525.2" y1="157.9" x2="721.15" y2="157.9" stroke="#262626" stroke-width="1.15"/>
<line x1="564.39" y1="7.7" x2="564.39" y2="10.3" stroke="#262626" stroke-width="1"/>
<line x1="564.39" y1="157.9" x2="564.39" y2="155.3" stroke="#262626" stroke-width="1"/>
<line x1="603.58" y1="7.7" x2="603.58" y2="10.3" stroke="#262626" stroke-width="1"/>
<line x1="603.58" y1="157.9" x2="603.58" y2="155.3" stroke="#262626" stroke-width="1"/>
<line x1="642.77" y1="7.7" x2="642.77" y2="10.3" stroke="#262626" stroke-width="1"/>
<line x1="642.77" y1="157.9" x2="642.77" y2="155.3" stroke="#262626" stroke-width="1"/>
<line x1="681.96" y1="7.7" x2="681.96" y2="10.3" stroke="#262626" stroke-width="1"/>
<line x1="681.96" y1="157.9" x2="681.96" y2="155.3" stroke="#262626" stroke-width="1"/>
<line x1="525.2" y1="7.7" x2="525.2" y2="157.9" stroke="#5577E4" stroke-width="1.15" stroke-linecap="square"/>
<line x1="721.15" y1="7.7" x2="721.15" y2="157.9" stroke="#5577E4" stroke-width="1.15" stroke-linecap="square"/>
<line x1="525.2" y1="7.7" x2="527.8" y2="7.7" stroke="#5577E4" stroke-width="1.3"/>
<line x1="721.15" y1="7.7" x2="718.55" y2="7.7" stroke="#5577E4" stroke-width="1.3"/>
<line x1="525.2" y1="57.77" x2="527.8" y2="57.77" stroke="#5577E4" stroke-width="1"/>
<line x1="721.15" y1="57.77" x2="718.55" y2="57.77" stroke="#5577E4" stroke-width="1"/>
<line x1="525.2" y1="107.83" x2="527.8" y2="107.83" stroke="#5577E4" stroke-width="1"/>
<line x1="721.15" y1="107.83" x2="718.55" y2="107.83" stroke="#5577E4" stroke-width="1"/>
<line x1="525.2" y1="157.9" x2="527.8" y2="157.9" stroke="#5577E4" stroke-width="1.3"/>
<line x1="721.15" y1="157.9" x2="718.55" y2="157.9" stroke="#5577E4" stroke-width="1.3"/>
<text class="tk bk" x="525.2" y="170.9" text-anchor="middle">0</text>
<text class="tk bk" x="564.39" y="170.9" text-anchor="middle">0.2</text>
<text class="tk bk" x="603.58" y="170.9" text-anchor="middle">0.4</text>
<text class="tk bk" x="642.77" y="170.9" text-anchor="middle">0.6</text>
<text class="tk bk" x="681.96" y="170.9" text-anchor="middle">0.8</text>
<text class="tk bk" x="721.15" y="170.9" text-anchor="middle">1</text>
<text class="tk bl" x="521.8" y="11.65" text-anchor="end">0</text>
<text class="tk bl" x="521.8" y="61.72" text-anchor="end">-50</text>
<text class="tk bl" x="521.8" y="111.78" text-anchor="end">-100</text>
<text class="tk bl" x="521.8" y="161.85" text-anchor="end">-150</text>
<text class="lb bk" x="623.27" y="185.3" text-anchor="middle">Frequency</text>
<text class="lb yl bl" transform="translate(497.3 82.8) rotate(-90)" text-anchor="middle">Power Spectrum [dB]</text>
<rect x="651.94" y="11.65" width="65.71" height="13.1" fill="#fff" stroke="#262626" stroke-width="1.1"/>
<line x1="654.14" y1="18.3" x2="667.34" y2="18.3" stroke="#F9A81A" stroke-width="1.22"/>
<text class="lg" x="669.24" y="21.65">Cosine_0.6</text>
<text class="cp" x="617.6" y="203.1" text-anchor="middle">(c)</text>
</g>
<g id="panel-d">
<clipPath id="clip-d"><rect x="38.15" y="222.6" width="195.9" height="150.2"/></clipPath>
<line x1="77.33" y1="222.6" x2="77.33" y2="372.8" stroke="rgba(38,38,38,0.115)" stroke-width="1"/>
<line x1="116.51" y1="222.6" x2="116.51" y2="372.8" stroke="rgba(38,38,38,0.115)" stroke-width="1"/>
<line x1="155.69" y1="222.6" x2="155.69" y2="372.8" stroke="rgba(38,38,38,0.115)" stroke-width="1"/>
<line x1="194.87" y1="222.6" x2="194.87" y2="372.8" stroke="rgba(38,38,38,0.115)" stroke-width="1"/>
<line x1="38.15" y1="272.67" x2="234.05" y2="272.67" stroke="rgba(65,105,225,0.11)" stroke-width="1"/>
<line x1="38.15" y1="322.73" x2="234.05" y2="322.73" stroke="rgba(65,105,225,0.11)" stroke-width="1"/>
<path d="M38.15 222.6 L38.53 222.61 L38.92 222.64 L39.3 222.69 L39.68 222.75 L40.06 222.84 L40.45 222.94 L40.83 223.07 L41.21 223.21 L41.59 223.38 L41.98 223.57 L42.36 223.77 L42.74 224 L43.12 224.25 L43.51 224.52 L43.89 224.81 L44.27 225.13 L44.65 225.47 L45.04 225.83 L45.42 226.22 L45.8 226.64 L46.18 227.09 L46.57 227.56 L46.95 228.06 L47.33 228.6 L47.72 229.17 L48.1 229.77 L48.48 230.41 L48.86 231.1 L49.25 231.82 L49.63 232.6 L50.01 233.42 L50.39 234.31 L50.78 235.25 L51.16 236.27 L51.54 237.37 L51.92 238.56 L52.31 239.86 L52.69 241.3 L53.07 242.9 L53.45 244.71 L53.84 246.8 L54.22 249.28 L54.6 252.4 L54.99 256.66 L55.37 263.86 L55.75 281.53 L56.13 262.96 L56.52 258.11 L56.9 255.48 L57.28 253.84 L57.66 252.77 L58.05 252.1 L58.43 251.73 L58.81 251.6 L59.19 251.69 L59.58 251.99 L59.96 252.49 L60.34 253.21 L60.72 254.18 L61.11 255.46 L61.49 257.15 L61.87 259.45 L62.25 262.79 L62.64 268.59 L63.02 298.44 L63.4 269.12 L63.79 262.98 L64.17 259.48 L64.55 257.06 L64.93 255.26 L65.32 253.84 L65.7 252.72 L66.08 251.81 L66.46 251.08 L66.85 250.49 L67.23 250.03 L67.61 249.68 L67.99 249.44 L68.38 249.29 L68.76 249.23 L69.14 249.26 L69.52 249.38 L69.91 249.59 L70.29 249.9 L70.67 250.3 L71.06 250.81 L71.44 251.43 L71.82 252.19 L72.2 253.1 L72.59 254.2 L72.97 255.55 L73.35 257.23 L73.73 259.38 L74.12 262.33 L74.5 266.9 L74.88 277.09 L75.26 275.44 L75.65 266.51 L76.03 262.29 L76.41 259.56 L76.79 257.57 L77.18 256.05 L77.56 254.84 L77.94 253.87 L78.32 253.09 L78.71 252.45 L79.09 251.95 L79.47 251.56 L79.86 251.27 L80.24 251.08 L80.62 250.98 L81 250.97 L81.39 251.03 L81.77 251.19 L82.15 251.43 L82.53 251.76 L82.92 252.19 L83.3 252.72 L83.68 253.37 L84.06 254.16 L84.45 255.1 L84.83 256.24 L85.21 257.63 L85.59 259.37 L85.98 261.62 L86.36 264.75 L86.74 269.73 L87.12 282.63 L87.51 275.1 L87.89 267.51 L88.27 263.61 L88.66 261.02 L89.04 259.11 L89.42 257.64 L89.8 256.46 L90.19 255.51 L90.57 254.75 L90.95 254.13 L91.33 253.63 L91.72 253.25 L92.1 252.97 L92.48 252.78 L92.86 252.68 L93.25 252.67 L93.63 252.74 L94.01 252.89 L94.39 253.13 L94.78 253.46 L95.16 253.89 L95.54 254.42 L95.93 255.08 L96.31 255.87 L96.69 256.82 L97.07 257.96 L97.46 259.37 L97.84 261.13 L98.22 263.43 L98.6 266.64 L98.99 271.85 L99.37 286.86 L99.75 275.77 L100.13 268.69 L100.52 264.92 L100.9 262.39 L101.28 260.51 L101.66 259.06 L102.05 257.89 L102.43 256.95 L102.81 256.19 L103.19 255.57 L103.58 255.07 L103.96 254.69 L104.34 254.41 L104.73 254.21 L105.11 254.11 L105.49 254.09 L105.87 254.16 L106.26 254.31 L106.64 254.55 L107.02 254.88 L107.4 255.3 L107.79 255.84 L108.17 256.49 L108.55 257.27 L108.93 258.23 L109.32 259.38 L109.7 260.79 L110.08 262.57 L110.46 264.89 L110.85 268.15 L111.23 273.51 L111.61 290.33 L112 276.55 L112.38 269.75 L112.76 266.06 L113.14 263.56 L113.53 261.7 L113.91 260.26 L114.29 259.1 L114.67 258.16 L115.06 257.39 L115.44 256.77 L115.82 256.27 L116.2 255.89 L116.59 255.6 L116.97 255.41 L117.35 255.3 L117.73 255.28 L118.12 255.34 L118.5 255.49 L118.88 255.73 L119.26 256.05 L119.65 256.47 L120.03 257 L120.41 257.65 L120.8 258.44 L121.18 259.39 L121.56 260.54 L121.94 261.96 L122.33 263.74 L122.71 266.08 L123.09 269.38 L123.47 274.85 L123.86 293.33 L124.24 277.29 L124.62 270.67 L125 267.03 L125.39 264.55 L125.77 262.7 L126.15 261.26 L126.53 260.1 L126.92 259.16 L127.3 258.39 L127.68 257.77 L128.07 257.27 L128.45 256.88 L128.83 256.6 L129.21 256.4 L129.6 256.29 L129.98 256.26 L130.36 256.32 L130.74 256.47 L131.13 256.7 L131.51 257.02 L131.89 257.44 L132.27 257.97 L132.66 258.61 L133.04 259.4 L133.42 260.35 L133.8 261.5 L134.19 262.92 L134.57 264.71 L134.95 267.06 L135.33 270.39 L135.72 275.95 L136.1 296.03 L136.48 277.93 L136.87 271.44 L137.25 267.84 L137.63 265.37 L138.01 263.53 L138.4 262.09 L138.78 260.94 L139.16 260 L139.54 259.23 L139.93 258.61 L140.31 258.1 L140.69 257.71 L141.07 257.42 L141.46 257.22 L141.84 257.11 L142.22 257.08 L142.6 257.14 L142.99 257.28 L143.37 257.51 L143.75 257.83 L144.13 258.25 L144.52 258.77 L144.9 259.41 L145.28 260.2 L145.67 261.15 L146.05 262.3 L146.43 263.72 L146.81 265.52 L147.2 267.88 L147.58 271.23 L147.96 276.86 L148.34 298.55 L148.73 278.47 L149.11 272.08 L149.49 268.51 L149.87 266.06 L150.26 264.22 L150.64 262.78 L151.02 261.63 L151.4 260.69 L151.79 259.92 L152.17 259.3 L152.55 258.79 L152.94 258.4 L153.32 258.1 L153.7 257.9 L154.08 257.79 L154.47 257.76 L154.85 257.81 L155.23 257.95 L155.61 258.18 L156 258.49 L156.38 258.91 L156.76 259.43 L157.14 260.07 L157.53 260.86 L157.91 261.8 L158.29 262.96 L158.67 264.38 L159.06 266.18 L159.44 268.55 L159.82 271.92 L160.2 277.62 L160.59 300.99 L160.97 278.92 L161.35 272.61 L161.74 269.06 L162.12 266.62 L162.5 264.79 L162.88 263.35 L163.27 262.2 L163.65 261.26 L164.03 260.49 L164.41 259.86 L164.8 259.36 L165.18 258.96 L165.56 258.66 L165.94 258.46 L166.33 258.34 L166.71 258.31 L167.09 258.36 L167.47 258.5 L167.86 258.72 L168.24 259.04 L168.62 259.45 L169.01 259.97 L169.39 260.61 L169.77 261.39 L170.15 262.34 L170.54 263.5 L170.92 264.92 L171.3 266.72 L171.68 269.1 L172.07 272.48 L172.45 278.24 L172.83 303.46 L173.21 279.28 L173.6 273.04 L173.98 269.51 L174.36 267.07 L174.74 265.25 L175.13 263.81 L175.51 262.66 L175.89 261.72 L176.27 260.94 L176.66 260.32 L177.04 259.81 L177.42 259.41 L177.81 259.12 L178.19 258.91 L178.57 258.79 L178.95 258.76 L179.34 258.81 L179.72 258.94 L180.1 259.16 L180.48 259.48 L180.87 259.89 L181.25 260.41 L181.63 261.04 L182.01 261.82 L182.4 262.77 L182.78 263.93 L183.16 265.35 L183.54 267.16 L183.93 269.54 L184.31 272.94 L184.69 278.75 L185.08 306.09 L185.46 279.55 L185.84 273.37 L186.22 269.85 L186.61 267.43 L186.99 265.6 L187.37 264.17 L187.75 263.02 L188.14 262.07 L188.52 261.3 L188.9 260.67 L189.28 260.16 L189.67 259.77 L190.05 259.47 L190.43 259.26 L190.81 259.14 L191.2 259.1 L191.58 259.15 L191.96 259.28 L192.34 259.5 L192.73 259.81 L193.11 260.22 L193.49 260.74 L193.88 261.38 L194.26 262.16 L194.64 263.1 L195.02 264.26 L195.41 265.68 L195.79 267.49 L196.17 269.88 L196.55 273.29 L196.94 279.15 L197.32 309.11 L197.7 279.73 L198.08 273.61 L198.47 270.11 L198.85 267.69 L199.23 265.87 L199.61 264.44 L200 263.28 L200.38 262.34 L200.76 261.57 L201.14 260.94 L201.53 260.43 L201.91 260.03 L202.29 259.72 L202.68 259.51 L203.06 259.39 L203.44 259.35 L203.82 259.4 L204.21 259.53 L204.59 259.75 L204.97 260.06 L205.35 260.47 L205.74 260.98 L206.12 261.62 L206.5 262.4 L206.88 263.34 L207.27 264.5 L207.65 265.92 L208.03 267.73 L208.41 270.13 L208.8 273.56 L209.18 279.46 L209.56 313 L209.95 279.84 L210.33 273.76 L210.71 270.28 L211.09 267.86 L211.48 266.05 L211.86 264.61 L212.24 263.46 L212.62 262.52 L213.01 261.74 L213.39 261.11 L213.77 260.6 L214.15 260.2 L214.54 259.9 L214.92 259.68 L215.3 259.56 L215.68 259.52 L216.07 259.56 L216.45 259.69 L216.83 259.91 L217.21 260.22 L217.6 260.63 L217.98 261.14 L218.36 261.78 L218.75 262.55 L219.13 263.5 L219.51 264.65 L219.89 266.08 L220.28 267.89 L220.66 270.29 L221.04 273.73 L221.42 279.68 L221.81 319.24 L222.19 279.87 L222.57 273.83 L222.95 270.36 L223.34 267.96 L223.72 266.14 L224.1 264.71 L224.48 263.55 L224.87 262.61 L225.25 261.84 L225.63 261.2 L226.02 260.69 L226.4 260.29 L226.78 259.98 L227.16 259.77 L227.55 259.64 L227.93 259.6 L228.31 259.65 L228.69 259.77 L229.08 259.99 L229.46 260.29 L229.84 260.7 L230.22 261.21 L230.61 261.85 L230.99 262.62 L231.37 263.57 L231.75 264.72 L232.14 266.15 L232.52 267.96 L232.9 270.37 L233.28 273.82 L233.67 279.81" fill="none" stroke="#F9A81A" stroke-width="1.22" stroke-linejoin="round" clip-path="url(#clip-d)"/>
<line x1="38.15" y1="222.6" x2="234.05" y2="222.6" stroke="#262626" stroke-width="1.15"/>
<line x1="38.15" y1="372.8" x2="234.05" y2="372.8" stroke="#262626" stroke-width="1.15"/>
<line x1="77.33" y1="222.6" x2="77.33" y2="225.2" stroke="#262626" stroke-width="1"/>
<line x1="77.33" y1="372.8" x2="77.33" y2="370.2" stroke="#262626" stroke-width="1"/>
<line x1="116.51" y1="222.6" x2="116.51" y2="225.2" stroke="#262626" stroke-width="1"/>
<line x1="116.51" y1="372.8" x2="116.51" y2="370.2" stroke="#262626" stroke-width="1"/>
<line x1="155.69" y1="222.6" x2="155.69" y2="225.2" stroke="#262626" stroke-width="1"/>
<line x1="155.69" y1="372.8" x2="155.69" y2="370.2" stroke="#262626" stroke-width="1"/>
<line x1="194.87" y1="222.6" x2="194.87" y2="225.2" stroke="#262626" stroke-width="1"/>
<line x1="194.87" y1="372.8" x2="194.87" y2="370.2" stroke="#262626" stroke-width="1"/>
<line x1="38.15" y1="222.6" x2="38.15" y2="372.8" stroke="#5577E4" stroke-width="1.15" stroke-linecap="square"/>
<line x1="234.05" y1="222.6" x2="234.05" y2="372.8" stroke="#5577E4" stroke-width="1.15" stroke-linecap="square"/>
<line x1="38.15" y1="222.6" x2="40.75" y2="222.6" stroke="#5577E4" stroke-width="1.3"/>
<line x1="234.05" y1="222.6" x2="231.45" y2="222.6" stroke="#5577E4" stroke-width="1.3"/>
<line x1="38.15" y1="272.67" x2="40.75" y2="272.67" stroke="#5577E4" stroke-width="1"/>
<line x1="234.05" y1="272.67" x2="231.45" y2="272.67" stroke="#5577E4" stroke-width="1"/>
<line x1="38.15" y1="322.73" x2="40.75" y2="322.73" stroke="#5577E4" stroke-width="1"/>
<line x1="234.05" y1="322.73" x2="231.45" y2="322.73" stroke="#5577E4" stroke-width="1"/>
<line x1="38.15" y1="372.8" x2="40.75" y2="372.8" stroke="#5577E4" stroke-width="1.3"/>
<line x1="234.05" y1="372.8" x2="231.45" y2="372.8" stroke="#5577E4" stroke-width="1.3"/>
<text class="tk bk" x="38.15" y="385.8" text-anchor="middle">0</text>
<text class="tk bk" x="77.33" y="385.8" text-anchor="middle">0.2</text>
<text class="tk bk" x="116.51" y="385.8" text-anchor="middle">0.4</text>
<text class="tk bk" x="155.69" y="385.8" text-anchor="middle">0.6</text>
<text class="tk bk" x="194.87" y="385.8" text-anchor="middle">0.8</text>
<text class="tk bk" x="234.05" y="385.8" text-anchor="middle">1</text>
<text class="tk bl" x="34.75" y="226.55" text-anchor="end">0</text>
<text class="tk bl" x="34.75" y="276.62" text-anchor="end">-50</text>
<text class="tk bl" x="34.75" y="326.68" text-anchor="end">-100</text>
<text class="tk bl" x="34.75" y="376.75" text-anchor="end">-150</text>
<text class="lb bk" x="136.2" y="400.2" text-anchor="middle">Frequency</text>
<text class="lb yl bl" transform="translate(10.25 297.7) rotate(-90)" text-anchor="middle">Power Spectrum [dB]</text>
<rect x="159.84" y="226.55" width="70.71" height="13.1" fill="#fff" stroke="#262626" stroke-width="1.1"/>
<line x1="162.04" y1="233.2" x2="175.24" y2="233.2" stroke="#F9A81A" stroke-width="1.22"/>
<text class="lg" x="177.14" y="236.55">Cosine_0.65</text>
<text class="cp" x="129.6" y="421.5" text-anchor="middle">(d)</text>
</g>
<g id="panel-e">
<clipPath id="clip-e"><rect x="283.5" y="223.5" width="196" height="150.2"/></clipPath>
<line x1="322.7" y1="223.5" x2="322.7" y2="373.7" stroke="rgba(38,38,38,0.115)" stroke-width="1"/>
<line x1="361.9" y1="223.5" x2="361.9" y2="373.7" stroke="rgba(38,38,38,0.115)" stroke-width="1"/>
<line x1="401.1" y1="223.5" x2="401.1" y2="373.7" stroke="rgba(38,38,38,0.115)" stroke-width="1"/>
<line x1="440.3" y1="223.5" x2="440.3" y2="373.7" stroke="rgba(38,38,38,0.115)" stroke-width="1"/>
<line x1="283.5" y1="273.57" x2="479.5" y2="273.57" stroke="rgba(65,105,225,0.11)" stroke-width="1"/>
<line x1="283.5" y1="323.63" x2="479.5" y2="323.63" stroke="rgba(65,105,225,0.11)" stroke-width="1"/>
<path d="M283.5 223.5 L283.88 223.51 L284.27 223.54 L284.65 223.59 L285.03 223.67 L285.41 223.76 L285.8 223.88 L286.18 224.01 L286.56 224.17 L286.95 224.36 L287.33 224.56 L287.71 224.79 L288.09 225.04 L288.48 225.31 L288.86 225.61 L289.24 225.94 L289.62 226.29 L290.01 226.67 L290.39 227.08 L290.77 227.52 L291.16 227.99 L291.54 228.5 L291.92 229.04 L292.3 229.61 L292.69 230.23 L293.07 230.89 L293.45 231.6 L293.84 232.36 L294.22 233.18 L294.6 234.06 L294.98 235.01 L295.37 236.04 L295.75 237.16 L296.13 238.4 L296.52 239.77 L296.9 241.3 L297.28 243.05 L297.66 245.09 L298.05 247.55 L298.43 250.68 L298.81 255.07 L299.2 262.99 L299.58 272.51 L299.96 259.34 L300.34 254.82 L300.73 252.22 L301.11 250.51 L301.49 249.33 L301.88 248.51 L302.26 247.96 L302.64 247.63 L303.02 247.47 L303.41 247.48 L303.79 247.64 L304.17 247.94 L304.55 248.39 L304.94 249.01 L305.32 249.79 L305.7 250.79 L306.09 252.03 L306.47 253.6 L306.85 255.64 L307.23 258.42 L307.62 262.67 L308 271.45 L308.38 274.07 L308.77 263.64 L309.15 259.12 L309.53 256.26 L309.91 254.2 L310.3 252.63 L310.68 251.4 L311.06 250.41 L311.45 249.61 L311.83 248.97 L312.21 248.46 L312.59 248.08 L312.98 247.79 L313.36 247.61 L313.74 247.51 L314.12 247.51 L314.51 247.59 L314.89 247.75 L315.27 248.01 L315.66 248.35 L316.04 248.79 L316.42 249.34 L316.8 250.01 L317.19 250.81 L317.57 251.77 L317.95 252.93 L318.34 254.34 L318.72 256.1 L319.1 258.38 L319.48 261.54 L319.87 266.59 L320.25 279.94 L320.63 271.66 L321.02 264.21 L321.4 260.36 L321.78 257.8 L322.16 255.92 L322.55 254.47 L322.93 253.31 L323.31 252.39 L323.7 251.64 L324.08 251.03 L324.46 250.56 L324.84 250.19 L325.23 249.93 L325.61 249.76 L325.99 249.68 L326.38 249.68 L326.76 249.77 L327.14 249.94 L327.52 250.19 L327.91 250.54 L328.29 250.99 L328.67 251.54 L329.05 252.21 L329.44 253.02 L329.82 253.99 L330.2 255.16 L330.59 256.59 L330.97 258.38 L331.35 260.71 L331.73 263.97 L332.12 269.3 L332.5 285.49 L332.88 272.66 L333.27 265.79 L333.65 262.1 L334.03 259.6 L334.41 257.76 L334.8 256.32 L335.18 255.18 L335.56 254.25 L335.95 253.51 L336.33 252.9 L336.71 252.42 L337.09 252.06 L337.48 251.79 L337.86 251.61 L338.24 251.52 L338.62 251.52 L339.01 251.6 L339.39 251.76 L339.77 252.01 L340.16 252.36 L340.54 252.8 L340.92 253.34 L341.3 254.01 L341.69 254.81 L342.07 255.78 L342.45 256.95 L342.84 258.38 L343.22 260.18 L343.6 262.53 L343.98 265.84 L344.37 271.33 L344.75 289.71 L345.13 273.83 L345.52 267.21 L345.9 263.59 L346.28 261.12 L346.66 259.29 L347.05 257.86 L347.43 256.72 L347.81 255.79 L348.2 255.04 L348.58 254.43 L348.96 253.95 L349.34 253.57 L349.73 253.3 L350.11 253.12 L350.49 253.02 L350.88 253.01 L351.26 253.08 L351.64 253.24 L352.02 253.49 L352.41 253.82 L352.79 254.26 L353.17 254.8 L353.55 255.46 L353.94 256.26 L354.32 257.22 L354.7 258.39 L355.09 259.82 L355.47 261.62 L355.85 263.99 L356.23 267.33 L356.62 272.92 L357 293.19 L357.38 274.87 L357.77 268.41 L358.15 264.83 L358.53 262.38 L358.91 260.55 L359.3 259.12 L359.68 257.98 L360.06 257.05 L360.45 256.3 L360.83 255.68 L361.21 255.19 L361.59 254.82 L361.98 254.54 L362.36 254.35 L362.74 254.25 L363.12 254.23 L363.51 254.3 L363.89 254.45 L364.27 254.69 L364.66 255.02 L365.04 255.45 L365.42 255.99 L365.8 256.64 L366.19 257.44 L366.57 258.4 L366.95 259.56 L367.34 261 L367.72 262.8 L368.1 265.17 L368.48 268.54 L368.87 274.2 L369.25 296.19 L369.63 275.77 L370.02 269.41 L370.4 265.85 L370.78 263.41 L371.16 261.59 L371.55 260.16 L371.93 259.02 L372.31 258.09 L372.7 257.33 L373.08 256.71 L373.46 256.22 L373.84 255.84 L374.23 255.55 L374.61 255.36 L374.99 255.26 L375.38 255.24 L375.76 255.3 L376.14 255.45 L376.52 255.68 L376.91 256.01 L377.29 256.44 L377.67 256.97 L378.05 257.62 L378.44 258.41 L378.82 259.37 L379.2 260.53 L379.59 261.97 L379.97 263.77 L380.35 266.15 L380.73 269.53 L381.12 275.25 L381.5 298.89 L381.88 276.53 L382.27 270.24 L382.65 266.7 L383.03 264.27 L383.41 262.45 L383.8 261.02 L384.18 259.88 L384.56 258.95 L384.95 258.19 L385.33 257.57 L385.71 257.07 L386.09 256.68 L386.48 256.4 L386.86 256.2 L387.24 256.09 L387.62 256.07 L388.01 256.13 L388.39 256.27 L388.77 256.5 L389.16 256.83 L389.54 257.25 L389.92 257.78 L390.3 258.43 L390.69 259.21 L391.07 260.17 L391.45 261.33 L391.84 262.76 L392.22 264.57 L392.6 266.96 L392.98 270.35 L393.37 276.12 L393.75 301.41 L394.13 277.16 L394.52 270.93 L394.9 267.41 L395.28 264.98 L395.66 263.16 L396.05 261.74 L396.43 260.59 L396.81 259.66 L397.2 258.89 L397.58 258.27 L397.96 257.77 L398.34 257.38 L398.73 257.09 L399.11 256.89 L399.49 256.78 L399.88 256.75 L400.26 256.81 L400.64 256.95 L401.02 257.18 L401.41 257.5 L401.79 257.92 L402.17 258.44 L402.55 259.09 L402.94 259.88 L403.32 260.83 L403.7 261.99 L404.09 263.42 L404.47 265.23 L404.85 267.62 L405.23 271.03 L405.62 276.83 L406 303.85 L406.38 277.68 L406.77 271.5 L407.15 267.99 L407.53 265.57 L407.91 263.75 L408.3 262.32 L408.68 261.17 L409.06 260.24 L409.45 259.47 L409.83 258.85 L410.21 258.35 L410.59 257.95 L410.98 257.66 L411.36 257.46 L411.74 257.34 L412.12 257.31 L412.51 257.37 L412.89 257.51 L413.27 257.73 L413.66 258.05 L414.04 258.46 L414.42 258.99 L414.8 259.63 L415.19 260.42 L415.57 261.37 L415.95 262.53 L416.34 263.96 L416.72 265.77 L417.1 268.16 L417.48 271.57 L417.87 277.42 L418.25 306.32 L418.63 278.09 L419.02 271.95 L419.4 268.45 L419.78 266.03 L420.16 264.22 L420.55 262.79 L420.93 261.64 L421.31 260.7 L421.7 259.94 L422.08 259.31 L422.46 258.81 L422.84 258.41 L423.23 258.12 L423.61 257.91 L423.99 257.79 L424.38 257.76 L424.76 257.81 L425.14 257.95 L425.52 258.17 L425.91 258.49 L426.29 258.9 L426.67 259.42 L427.05 260.06 L427.44 260.85 L427.82 261.8 L428.2 262.95 L428.59 264.39 L428.97 266.2 L429.35 268.59 L429.73 272.01 L430.12 277.89 L430.5 308.95 L430.88 278.41 L431.27 272.31 L431.65 268.82 L432.03 266.4 L432.41 264.59 L432.8 263.16 L433.18 262.01 L433.56 261.07 L433.95 260.3 L434.33 259.67 L434.71 259.17 L435.09 258.77 L435.48 258.47 L435.86 258.26 L436.24 258.14 L436.62 258.11 L437.01 258.16 L437.39 258.29 L437.77 258.51 L438.16 258.83 L438.54 259.24 L438.92 259.76 L439.3 260.4 L439.69 261.18 L440.07 262.13 L440.45 263.28 L440.84 264.71 L441.22 266.53 L441.6 268.92 L441.98 272.35 L442.37 278.26 L442.75 311.97 L443.13 278.64 L443.52 272.57 L443.9 269.09 L444.28 266.68 L444.66 264.86 L445.05 263.43 L445.43 262.28 L445.81 261.34 L446.2 260.57 L446.58 259.94 L446.96 259.43 L447.34 259.03 L447.73 258.73 L448.11 258.52 L448.49 258.4 L448.88 258.37 L449.26 258.41 L449.64 258.54 L450.02 258.76 L450.41 259.07 L450.79 259.48 L451.17 260 L451.55 260.64 L451.94 261.42 L452.32 262.36 L452.7 263.52 L453.09 264.95 L453.47 266.76 L453.85 269.16 L454.23 272.6 L454.62 278.53 L455 315.86 L455.38 278.78 L455.77 272.74 L456.15 269.27 L456.53 266.86 L456.91 265.05 L457.3 263.62 L457.68 262.47 L458.06 261.52 L458.45 260.75 L458.83 260.12 L459.21 259.61 L459.59 259.21 L459.98 258.91 L460.36 258.7 L460.74 258.57 L461.12 258.53 L461.51 258.58 L461.89 258.71 L462.27 258.92 L462.66 259.23 L463.04 259.64 L463.42 260.15 L463.8 260.79 L464.19 261.57 L464.57 262.51 L464.95 263.67 L465.34 265.1 L465.72 266.91 L466.1 269.31 L466.48 272.76 L466.87 278.72 L467.25 322.1 L467.63 278.85 L468.02 272.83 L468.4 269.37 L468.78 266.96 L469.16 265.15 L469.55 263.72 L469.93 262.56 L470.31 261.62 L470.7 260.85 L471.08 260.21 L471.46 259.7 L471.84 259.3 L472.23 259 L472.61 258.78 L472.99 258.66 L473.38 258.62 L473.76 258.66 L474.14 258.79 L474.52 259 L474.91 259.31 L475.29 259.71 L475.67 260.23 L476.05 260.86 L476.44 261.64 L476.82 262.58 L477.2 263.74 L477.59 265.16 L477.97 266.98 L478.35 269.38 L478.73 272.84 L479.12 278.83" fill="none" stroke="#F9A81A" stroke-width="1.22" stroke-linejoin="round" clip-path="url(#clip-e)"/>
<line x1="283.5" y1="223.5" x2="479.5" y2="223.5" stroke="#262626" stroke-width="1.15"/>
<line x1="283.5" y1="373.7" x2="479.5" y2="373.7" stroke="#262626" stroke-width="1.15"/>
<line x1="322.7" y1="223.5" x2="322.7" y2="226.1" stroke="#262626" stroke-width="1"/>
<line x1="322.7" y1="373.7" x2="322.7" y2="371.1" stroke="#262626" stroke-width="1"/>
<line x1="361.9" y1="223.5" x2="361.9" y2="226.1" stroke="#262626" stroke-width="1"/>
<line x1="361.9" y1="373.7" x2="361.9" y2="371.1" stroke="#262626" stroke-width="1"/>
<line x1="401.1" y1="223.5" x2="401.1" y2="226.1" stroke="#262626" stroke-width="1"/>
<line x1="401.1" y1="373.7" x2="401.1" y2="371.1" stroke="#262626" stroke-width="1"/>
<line x1="440.3" y1="223.5" x2="440.3" y2="226.1" stroke="#262626" stroke-width="1"/>
<line x1="440.3" y1="373.7" x2="440.3" y2="371.1" stroke="#262626" stroke-width="1"/>
<line x1="283.5" y1="223.5" x2="283.5" y2="373.7" stroke="#5577E4" stroke-width="1.15" stroke-linecap="square"/>
<line x1="479.5" y1="223.5" x2="479.5" y2="373.7" stroke="#5577E4" stroke-width="1.15" stroke-linecap="square"/>
<line x1="283.5" y1="223.5" x2="286.1" y2="223.5" stroke="#5577E4" stroke-width="1.3"/>
<line x1="479.5" y1="223.5" x2="476.9" y2="223.5" stroke="#5577E4" stroke-width="1.3"/>
<line x1="283.5" y1="273.57" x2="286.1" y2="273.57" stroke="#5577E4" stroke-width="1"/>
<line x1="479.5" y1="273.57" x2="476.9" y2="273.57" stroke="#5577E4" stroke-width="1"/>
<line x1="283.5" y1="323.63" x2="286.1" y2="323.63" stroke="#5577E4" stroke-width="1"/>
<line x1="479.5" y1="323.63" x2="476.9" y2="323.63" stroke="#5577E4" stroke-width="1"/>
<line x1="283.5" y1="373.7" x2="286.1" y2="373.7" stroke="#5577E4" stroke-width="1.3"/>
<line x1="479.5" y1="373.7" x2="476.9" y2="373.7" stroke="#5577E4" stroke-width="1.3"/>
<text class="tk bk" x="283.5" y="386.7" text-anchor="middle">0</text>
<text class="tk bk" x="322.7" y="386.7" text-anchor="middle">0.2</text>
<text class="tk bk" x="361.9" y="386.7" text-anchor="middle">0.4</text>
<text class="tk bk" x="401.1" y="386.7" text-anchor="middle">0.6</text>
<text class="tk bk" x="440.3" y="386.7" text-anchor="middle">0.8</text>
<text class="tk bk" x="479.5" y="386.7" text-anchor="middle">1</text>
<text class="tk bl" x="280.1" y="227.45" text-anchor="end">0</text>
<text class="tk bl" x="280.1" y="277.52" text-anchor="end">-50</text>
<text class="tk bl" x="280.1" y="327.58" text-anchor="end">-100</text>
<text class="tk bl" x="280.1" y="377.65" text-anchor="end">-150</text>
<text class="lb bk" x="381.6" y="401.1" text-anchor="middle">Frequency</text>
<text class="lb yl bl" transform="translate(256.3 298.6) rotate(-90)" text-anchor="middle">Power Spectrum [dB]</text>
<rect x="410.29" y="227.45" width="65.71" height="13.1" fill="#fff" stroke="#262626" stroke-width="1.1"/>
<line x1="412.49" y1="234.1" x2="425.69" y2="234.1" stroke="#F9A81A" stroke-width="1.22"/>
<text class="lg" x="427.59" y="237.45">Cosine_0.7</text>
<text class="cp" x="374.3" y="421.3" text-anchor="middle">(e)</text>
</g>
<g id="panel-f">
<clipPath id="clip-f"><rect x="525.2" y="225.9" width="195.95" height="150.1"/></clipPath>
<line x1="564.39" y1="225.9" x2="564.39" y2="376" stroke="rgba(38,38,38,0.115)" stroke-width="1"/>
<line x1="603.58" y1="225.9" x2="603.58" y2="376" stroke="rgba(38,38,38,0.115)" stroke-width="1"/>
<line x1="642.77" y1="225.9" x2="642.77" y2="376" stroke="rgba(38,38,38,0.115)" stroke-width="1"/>
<line x1="681.96" y1="225.9" x2="681.96" y2="376" stroke="rgba(38,38,38,0.115)" stroke-width="1"/>
<line x1="525.2" y1="275.93" x2="721.15" y2="275.93" stroke="rgba(65,105,225,0.11)" stroke-width="1"/>
<line x1="525.2" y1="325.97" x2="721.15" y2="325.97" stroke="rgba(65,105,225,0.11)" stroke-width="1"/>
<path d="M525.2 225.9 L525.58 225.91 L525.97 225.94 L526.35 226 L526.73 226.08 L527.11 226.18 L527.5 226.31 L527.88 226.45 L528.26 226.63 L528.64 226.82 L529.03 227.04 L529.41 227.29 L529.79 227.56 L530.18 227.86 L530.56 228.19 L530.94 228.54 L531.32 228.93 L531.71 229.34 L532.09 229.79 L532.47 230.28 L532.85 230.8 L533.24 231.36 L533.62 231.97 L534 232.62 L534.39 233.32 L534.77 234.08 L535.15 234.9 L535.53 235.78 L535.92 236.75 L536.3 237.8 L536.68 238.97 L537.06 240.26 L537.45 241.71 L537.83 243.37 L538.21 245.3 L538.6 247.63 L538.98 250.57 L539.36 254.66 L539.74 261.69 L540.13 278.93 L540.51 260.34 L540.89 255.28 L541.27 252.43 L541.66 250.54 L542.04 249.21 L542.42 248.24 L542.8 247.55 L543.19 247.06 L543.57 246.75 L543.95 246.59 L544.34 246.56 L544.72 246.66 L545.1 246.88 L545.48 247.22 L545.87 247.68 L546.25 248.28 L546.63 249.02 L547.01 249.93 L547.4 251.04 L547.78 252.41 L548.16 254.13 L548.55 256.35 L548.93 259.41 L549.31 264.24 L549.69 275.97 L550.08 270.77 L550.46 262.76 L550.84 258.78 L551.22 256.16 L551.61 254.26 L551.99 252.8 L552.37 251.64 L552.76 250.72 L553.14 249.97 L553.52 249.38 L553.9 248.92 L554.29 248.56 L554.67 248.31 L555.05 248.16 L555.43 248.09 L555.82 248.11 L556.2 248.22 L556.58 248.41 L556.97 248.68 L557.35 249.05 L557.73 249.51 L558.11 250.08 L558.5 250.77 L558.88 251.6 L559.26 252.59 L559.64 253.78 L560.03 255.23 L560.41 257.04 L560.79 259.39 L561.18 262.67 L561.56 268.04 L561.94 284.47 L562.32 271.33 L562.71 264.52 L563.09 260.85 L563.47 258.38 L563.85 256.56 L564.24 255.14 L564.62 254.02 L565 253.12 L565.39 252.39 L565.77 251.8 L566.15 251.34 L566.53 250.99 L566.92 250.74 L567.3 250.58 L567.68 250.51 L568.06 250.52 L568.45 250.62 L568.83 250.8 L569.21 251.07 L569.59 251.43 L569.98 251.88 L570.36 252.44 L570.74 253.12 L571.13 253.94 L571.51 254.93 L571.89 256.11 L572.27 257.57 L572.66 259.38 L573.04 261.76 L573.42 265.1 L573.8 270.66 L574.19 290.01 L574.57 272.9 L574.95 266.39 L575.34 262.8 L575.72 260.36 L576.1 258.55 L576.48 257.14 L576.87 256.02 L577.25 255.11 L577.63 254.37 L578.01 253.78 L578.4 253.31 L578.78 252.95 L579.16 252.69 L579.55 252.52 L579.93 252.44 L580.31 252.44 L580.69 252.53 L581.08 252.7 L581.46 252.95 L581.84 253.3 L582.22 253.75 L582.61 254.3 L582.99 254.97 L583.37 255.78 L583.76 256.76 L584.14 257.94 L584.52 259.39 L584.9 261.21 L585.29 263.59 L585.67 266.96 L586.05 272.62 L586.43 294.23 L586.82 274.3 L587.2 267.94 L587.58 264.39 L587.97 261.97 L588.35 260.16 L588.73 258.75 L589.11 257.62 L589.5 256.7 L589.88 255.96 L590.26 255.36 L590.64 254.88 L591.03 254.51 L591.41 254.24 L591.79 254.06 L592.18 253.97 L592.56 253.97 L592.94 254.05 L593.32 254.21 L593.71 254.46 L594.09 254.8 L594.47 255.24 L594.85 255.78 L595.24 256.45 L595.62 257.25 L596 258.22 L596.38 259.4 L596.77 260.84 L597.15 262.66 L597.53 265.05 L597.92 268.44 L598.3 274.16 L598.68 297.7 L599.06 275.49 L599.45 269.21 L599.83 265.69 L600.21 263.27 L600.59 261.46 L600.98 260.04 L601.36 258.91 L601.74 257.99 L602.13 257.24 L602.51 256.64 L602.89 256.15 L603.27 255.78 L603.66 255.5 L604.04 255.32 L604.42 255.22 L604.8 255.21 L605.19 255.28 L605.57 255.44 L605.95 255.68 L606.34 256.01 L606.72 256.44 L607.1 256.98 L607.48 257.64 L607.87 258.44 L608.25 259.41 L608.63 260.58 L609.01 262.02 L609.4 263.84 L609.78 266.23 L610.16 269.64 L610.55 275.41 L610.93 300.7 L611.31 276.47 L611.69 270.26 L612.08 266.75 L612.46 264.33 L612.84 262.52 L613.22 261.11 L613.61 259.97 L613.99 259.05 L614.37 258.3 L614.76 257.68 L615.14 257.2 L615.52 256.82 L615.9 256.53 L616.29 256.35 L616.67 256.24 L617.05 256.23 L617.43 256.29 L617.82 256.44 L618.2 256.68 L618.58 257.01 L618.97 257.44 L619.35 257.97 L619.73 258.63 L620.11 259.42 L620.5 260.38 L620.88 261.55 L621.26 262.99 L621.64 264.81 L622.03 267.2 L622.41 270.62 L622.79 276.43 L623.17 303.4 L623.56 277.29 L623.94 271.12 L624.32 267.62 L624.71 265.21 L625.09 263.4 L625.47 261.99 L625.85 260.85 L626.24 259.92 L626.62 259.16 L627 258.55 L627.38 258.06 L627.77 257.67 L628.15 257.39 L628.53 257.19 L628.92 257.09 L629.3 257.06 L629.68 257.13 L630.06 257.27 L630.45 257.51 L630.83 257.83 L631.21 258.25 L631.59 258.79 L631.98 259.44 L632.36 260.23 L632.74 261.19 L633.13 262.35 L633.51 263.79 L633.89 265.61 L634.27 268 L634.66 271.42 L635.04 277.26 L635.42 305.92 L635.8 277.97 L636.19 271.84 L636.57 268.35 L636.95 265.94 L637.34 264.13 L637.72 262.71 L638.1 261.57 L638.48 260.64 L638.87 259.88 L639.25 259.26 L639.63 258.76 L640.01 258.38 L640.4 258.09 L640.78 257.89 L641.16 257.78 L641.55 257.75 L641.93 257.81 L642.31 257.96 L642.69 258.19 L643.08 258.51 L643.46 258.93 L643.84 259.45 L644.22 260.1 L644.61 260.89 L644.99 261.85 L645.37 263.01 L645.76 264.45 L646.14 266.26 L646.52 268.66 L646.9 272.09 L647.29 277.95 L647.67 308.36 L648.05 278.53 L648.43 272.42 L648.82 268.94 L649.2 266.53 L649.58 264.72 L649.97 263.3 L650.35 262.16 L650.73 261.23 L651.11 260.46 L651.5 259.84 L651.88 259.34 L652.26 258.95 L652.64 258.66 L653.03 258.46 L653.41 258.35 L653.79 258.32 L654.17 258.37 L654.56 258.51 L654.94 258.74 L655.32 259.06 L655.71 259.48 L656.09 260 L656.47 260.64 L656.85 261.43 L657.24 262.38 L657.62 263.55 L658 264.98 L658.38 266.8 L658.77 269.19 L659.15 272.63 L659.53 278.51 L659.92 310.82 L660.3 278.97 L660.68 272.9 L661.06 269.42 L661.45 267.01 L661.83 265.2 L662.21 263.78 L662.59 262.63 L662.98 261.7 L663.36 260.93 L663.74 260.31 L664.13 259.81 L664.51 259.41 L664.89 259.12 L665.27 258.92 L665.66 258.8 L666.04 258.77 L666.42 258.82 L666.8 258.96 L667.19 259.18 L667.57 259.5 L667.95 259.91 L668.34 260.43 L668.72 261.08 L669.1 261.86 L669.48 262.81 L669.87 263.97 L670.25 265.4 L670.63 267.22 L671.01 269.62 L671.4 273.05 L671.78 278.97 L672.16 313.45 L672.55 279.32 L672.93 273.26 L673.31 269.79 L673.69 267.39 L674.08 265.58 L674.46 264.15 L674.84 263 L675.22 262.07 L675.61 261.3 L675.99 260.67 L676.37 260.17 L676.76 259.77 L677.14 259.48 L677.52 259.27 L677.9 259.15 L678.29 259.12 L678.67 259.17 L679.05 259.3 L679.43 259.53 L679.82 259.84 L680.2 260.25 L680.58 260.77 L680.96 261.41 L681.35 262.19 L681.73 263.14 L682.11 264.3 L682.5 265.73 L682.88 267.54 L683.26 269.94 L683.64 273.39 L684.03 279.32 L684.41 316.47 L684.79 279.58 L685.17 273.54 L685.56 270.07 L685.94 267.67 L686.32 265.86 L686.71 264.43 L687.09 263.28 L687.47 262.34 L687.85 261.57 L688.24 260.95 L688.62 260.44 L689 260.04 L689.38 259.74 L689.77 259.53 L690.15 259.41 L690.53 259.38 L690.92 259.42 L691.3 259.56 L691.68 259.77 L692.06 260.09 L692.45 260.49 L692.83 261.01 L693.21 261.65 L693.59 262.43 L693.98 263.38 L694.36 264.53 L694.74 265.96 L695.13 267.78 L695.51 270.18 L695.89 273.62 L696.27 279.57 L696.66 320.36 L697.04 279.74 L697.42 273.72 L697.8 270.26 L698.19 267.86 L698.57 266.05 L698.95 264.62 L699.34 263.47 L699.72 262.53 L700.1 261.76 L700.48 261.13 L700.87 260.62 L701.25 260.22 L701.63 259.92 L702.01 259.71 L702.4 259.58 L702.78 259.54 L703.16 259.59 L703.55 259.72 L703.93 259.94 L704.31 260.24 L704.69 260.65 L705.08 261.17 L705.46 261.8 L705.84 262.58 L706.22 263.53 L706.61 264.68 L706.99 266.11 L707.37 267.92 L707.75 270.32 L708.14 273.77 L708.52 279.74 L708.9 326.59 L709.29 279.82 L709.67 273.82 L710.05 270.37 L710.43 267.96 L710.82 266.15 L711.2 264.72 L711.58 263.57 L711.96 262.63 L712.35 261.86 L712.73 261.22 L713.11 260.71 L713.5 260.31 L713.88 260.01 L714.26 259.79 L714.64 259.67 L715.03 259.63 L715.41 259.67 L715.79 259.8 L716.17 260.01 L716.56 260.32 L716.94 260.72 L717.32 261.24 L717.71 261.87 L718.09 262.65 L718.47 263.59 L718.85 264.74 L719.24 266.17 L719.62 267.98 L720 270.39 L720.38 273.84 L720.77 279.82" fill="none" stroke="#F9A81A" stroke-width="1.22" stroke-linejoin="round" clip-path="url(#clip-f)"/>
<line x1="525.2" y1="225.9" x2="721.15" y2="225.9" stroke="#262626" stroke-width="1.15"/>
<line x1="525.2" y1="376" x2="721.15" y2="376" stroke="#262626" stroke-width="1.15"/>
<line x1="564.39" y1="225.9" x2="564.39" y2="228.5" stroke="#262626" stroke-width="1"/>
<line x1="564.39" y1="376" x2="564.39" y2="373.4" stroke="#262626" stroke-width="1"/>
<line x1="603.58" y1="225.9" x2="603.58" y2="228.5" stroke="#262626" stroke-width="1"/>
<line x1="603.58" y1="376" x2="603.58" y2="373.4" stroke="#262626" stroke-width="1"/>
<line x1="642.77" y1="225.9" x2="642.77" y2="228.5" stroke="#262626" stroke-width="1"/>
<line x1="642.77" y1="376" x2="642.77" y2="373.4" stroke="#262626" stroke-width="1"/>
<line x1="681.96" y1="225.9" x2="681.96" y2="228.5" stroke="#262626" stroke-width="1"/>
<line x1="681.96" y1="376" x2="681.96" y2="373.4" stroke="#262626" stroke-width="1"/>
<line x1="525.2" y1="225.9" x2="525.2" y2="376" stroke="#5577E4" stroke-width="1.15" stroke-linecap="square"/>
<line x1="721.15" y1="225.9" x2="721.15" y2="376" stroke="#5577E4" stroke-width="1.15" stroke-linecap="square"/>
<line x1="525.2" y1="225.9" x2="527.8" y2="225.9" stroke="#5577E4" stroke-width="1.3"/>
<line x1="721.15" y1="225.9" x2="718.55" y2="225.9" stroke="#5577E4" stroke-width="1.3"/>
<line x1="525.2" y1="275.93" x2="527.8" y2="275.93" stroke="#5577E4" stroke-width="1"/>
<line x1="721.15" y1="275.93" x2="718.55" y2="275.93" stroke="#5577E4" stroke-width="1"/>
<line x1="525.2" y1="325.97" x2="527.8" y2="325.97" stroke="#5577E4" stroke-width="1"/>
<line x1="721.15" y1="325.97" x2="718.55" y2="325.97" stroke="#5577E4" stroke-width="1"/>
<line x1="525.2" y1="376" x2="527.8" y2="376" stroke="#5577E4" stroke-width="1.3"/>
<line x1="721.15" y1="376" x2="718.55" y2="376" stroke="#5577E4" stroke-width="1.3"/>
<text class="tk bk" x="525.2" y="389" text-anchor="middle">0</text>
<text class="tk bk" x="564.39" y="389" text-anchor="middle">0.2</text>
<text class="tk bk" x="603.58" y="389" text-anchor="middle">0.4</text>
<text class="tk bk" x="642.77" y="389" text-anchor="middle">0.6</text>
<text class="tk bk" x="681.96" y="389" text-anchor="middle">0.8</text>
<text class="tk bk" x="721.15" y="389" text-anchor="middle">1</text>
<text class="tk bl" x="521.8" y="229.85" text-anchor="end">0</text>
<text class="tk bl" x="521.8" y="279.88" text-anchor="end">-50</text>
<text class="tk bl" x="521.8" y="329.92" text-anchor="end">-100</text>
<text class="tk bl" x="521.8" y="379.95" text-anchor="end">-150</text>
<text class="lb bk" x="623.27" y="403.4" text-anchor="middle">Frequency</text>
<text class="lb yl bl" transform="translate(497.3 300.95) rotate(-90)" text-anchor="middle">Power Spectrum [dB]</text>
<rect x="646.94" y="229.85" width="70.71" height="13.1" fill="#fff" stroke="#262626" stroke-width="1.1"/>
<line x1="649.14" y1="236.5" x2="662.34" y2="236.5" stroke="#F9A81A" stroke-width="1.22"/>
<text class="lg" x="664.24" y="239.85">Cosine_0.75</text>
<text class="cp" x="615.8" y="421.8" text-anchor="middle">(f)</text>
</g>
<g id="panel-g">
<clipPath id="clip-g"><rect x="38.15" y="440.8" width="195.9" height="150.4"/></clipPath>
<line x1="77.33" y1="440.8" x2="77.33" y2="591.2" stroke="rgba(38,38,38,0.115)" stroke-width="1"/>
<line x1="116.51" y1="440.8" x2="116.51" y2="591.2" stroke="rgba(38,38,38,0.115)" stroke-width="1"/>
<line x1="155.69" y1="440.8" x2="155.69" y2="591.2" stroke="rgba(38,38,38,0.115)" stroke-width="1"/>
<line x1="194.87" y1="440.8" x2="194.87" y2="591.2" stroke="rgba(38,38,38,0.115)" stroke-width="1"/>
<line x1="38.15" y1="490.93" x2="234.05" y2="490.93" stroke="rgba(65,105,225,0.11)" stroke-width="1"/>
<line x1="38.15" y1="541.07" x2="234.05" y2="541.07" stroke="rgba(65,105,225,0.11)" stroke-width="1"/>
<path d="M38.15 440.8 L38.53 440.8 L38.92 440.82 L39.3 440.84 L39.68 440.86 L40.06 440.9 L40.45 440.94 L40.83 441 L41.21 441.06 L41.59 441.13 L41.98 441.2 L42.36 441.29 L42.74 441.38 L43.12 441.48 L43.51 441.59 L43.89 441.71 L44.27 441.83 L44.65 441.97 L45.04 442.11 L45.42 442.26 L45.8 442.42 L46.18 442.59 L46.57 442.77 L46.95 442.95 L47.33 443.15 L47.72 443.35 L48.1 443.56 L48.48 443.78 L48.86 444.02 L49.25 444.26 L49.63 444.5 L50.01 444.76 L50.39 445.03 L50.78 445.31 L51.16 445.6 L51.54 445.89 L51.92 446.2 L52.31 446.52 L52.69 446.85 L53.07 447.19 L53.45 447.54 L53.84 447.9 L54.22 448.27 L54.6 448.65 L54.99 449.04 L55.37 449.45 L55.75 449.87 L56.13 450.3 L56.52 450.74 L56.9 451.19 L57.28 451.66 L57.66 452.14 L58.05 452.64 L58.43 453.14 L58.81 453.67 L59.19 454.2 L59.58 454.76 L59.96 455.32 L60.34 455.91 L60.72 456.51 L61.11 457.13 L61.49 457.76 L61.87 458.42 L62.25 459.09 L62.64 459.78 L63.02 460.5 L63.4 461.23 L63.79 461.99 L64.17 462.77 L64.55 463.57 L64.93 464.4 L65.32 465.26 L65.7 466.15 L66.08 467.06 L66.46 468.01 L66.85 468.99 L67.23 470.01 L67.61 471.06 L67.99 472.16 L68.38 473.3 L68.76 474.5 L69.14 475.74 L69.52 477.04 L69.91 478.41 L70.29 479.84 L70.67 481.35 L71.06 482.95 L71.44 484.66 L71.82 486.47 L72.2 488.42 L72.59 490.53 L72.97 492.83 L73.35 495.36 L73.73 498.19 L74.12 501.41 L74.5 505.16 L74.88 509.72 L75.26 515.61 L75.65 524.34 L76.03 549.67 L76.41 537.14 L76.79 553.94 L77.18 526.95 L77.56 519.23 L77.94 514.44 L78.32 511.01 L78.71 508.4 L79.09 506.35 L79.47 504.69 L79.86 503.34 L80.24 502.24 L80.62 501.35 L81 500.63 L81.39 500.07 L81.77 499.64 L82.15 499.34 L82.53 499.16 L82.92 499.09 L83.3 499.13 L83.68 499.27 L84.06 499.52 L84.45 499.89 L84.83 500.38 L85.21 501 L85.59 501.77 L85.98 502.71 L86.36 503.87 L86.74 505.29 L87.12 507.1 L87.51 509.46 L87.89 512.79 L88.27 518.33 L88.66 537.27 L89.04 520.72 L89.42 514.17 L89.8 510.58 L90.19 508.15 L90.57 506.35 L90.95 504.95 L91.33 503.84 L91.72 502.96 L92.1 502.24 L92.48 501.67 L92.86 501.22 L93.25 500.88 L93.63 500.64 L94.01 500.5 L94.39 500.43 L94.78 500.45 L95.16 500.55 L95.54 500.73 L95.93 500.99 L96.31 501.34 L96.69 501.77 L97.07 502.3 L97.46 502.93 L97.84 503.68 L98.22 504.57 L98.6 505.62 L98.99 506.87 L99.37 508.38 L99.75 510.25 L100.13 512.66 L100.52 516.03 L100.9 521.51 L101.28 538.81 L101.66 524.58 L102.05 517.9 L102.43 514.3 L102.81 511.88 L103.19 510.1 L103.58 508.73 L103.96 507.65 L104.34 506.78 L104.73 506.08 L105.11 505.53 L105.49 505.1 L105.87 504.78 L106.26 504.55 L106.64 504.41 L107.02 504.36 L107.4 504.39 L107.79 504.49 L108.17 504.68 L108.55 504.94 L108.93 505.29 L109.32 505.73 L109.7 506.25 L110.08 506.89 L110.46 507.63 L110.85 508.52 L111.23 509.56 L111.61 510.8 L112 512.3 L112.38 514.16 L112.76 516.55 L113.14 519.86 L113.53 525.24 L113.91 541.18 L114.29 528.88 L114.67 522 L115.06 518.34 L115.44 515.89 L115.82 514.09 L116.2 512.7 L116.59 511.6 L116.97 510.72 L117.35 510.01 L117.73 509.45 L118.12 509 L118.5 508.67 L118.88 508.43 L119.26 508.28 L119.65 508.22 L120.03 508.24 L120.41 508.33 L120.8 508.51 L121.18 508.76 L121.56 509.1 L121.94 509.52 L122.33 510.04 L122.71 510.65 L123.09 511.39 L123.47 512.26 L123.86 513.28 L124.24 514.51 L124.62 515.99 L125 517.82 L125.39 520.18 L125.77 523.45 L126.15 528.71 L126.53 543.53 L126.92 532.91 L127.3 525.83 L127.68 522.1 L128.07 519.61 L128.45 517.79 L128.83 516.38 L129.21 515.26 L129.6 514.36 L129.98 513.64 L130.36 513.06 L130.74 512.61 L131.13 512.26 L131.51 512.01 L131.89 511.85 L132.27 511.77 L132.66 511.78 L133.04 511.86 L133.42 512.02 L133.8 512.26 L134.19 512.59 L134.57 513 L134.95 513.5 L135.33 514.11 L135.72 514.83 L136.1 515.69 L136.48 516.7 L136.87 517.91 L137.25 519.37 L137.63 521.18 L138.01 523.51 L138.4 526.73 L138.78 531.88 L139.16 545.75 L139.54 536.66 L139.93 529.36 L140.31 525.57 L140.69 523.04 L141.07 521.19 L141.46 519.76 L141.84 518.63 L142.22 517.72 L142.6 516.98 L142.99 516.39 L143.37 515.92 L143.75 515.57 L144.13 515.31 L144.52 515.13 L144.9 515.05 L145.28 515.04 L145.67 515.12 L146.05 515.27 L146.43 515.5 L146.81 515.82 L147.2 516.22 L147.58 516.71 L147.96 517.31 L148.34 518.02 L148.73 518.86 L149.11 519.87 L149.49 521.06 L149.87 522.51 L150.26 524.3 L150.64 526.6 L151.02 529.78 L151.4 534.82 L151.79 547.88 L152.17 540.2 L152.55 532.66 L152.94 528.8 L153.32 526.25 L153.7 524.37 L154.08 522.93 L154.47 521.78 L154.85 520.86 L155.23 520.11 L155.61 519.51 L156 519.04 L156.38 518.67 L156.76 518.4 L157.14 518.22 L157.53 518.13 L157.91 518.12 L158.29 518.19 L158.67 518.33 L159.06 518.56 L159.44 518.87 L159.82 519.26 L160.2 519.75 L160.59 520.34 L160.97 521.04 L161.35 521.88 L161.74 522.87 L162.12 524.05 L162.5 525.49 L162.88 527.26 L163.27 529.54 L163.65 532.68 L164.03 537.62 L164.41 549.98 L164.8 543.61 L165.18 535.84 L165.56 531.91 L165.94 529.32 L166.33 527.43 L166.71 525.97 L167.09 524.82 L167.47 523.89 L167.86 523.13 L168.24 522.53 L168.62 522.05 L169.01 521.68 L169.39 521.4 L169.77 521.22 L170.15 521.12 L170.54 521.11 L170.92 521.17 L171.3 521.32 L171.68 521.54 L172.07 521.84 L172.45 522.24 L172.83 522.72 L173.21 523.31 L173.6 524.01 L173.98 524.84 L174.36 525.82 L174.74 527 L175.13 528.43 L175.51 530.19 L175.89 532.45 L176.27 535.55 L176.66 540.41 L177.04 552.15 L177.42 547.04 L177.81 539.01 L178.19 535.02 L178.57 532.4 L178.95 530.49 L179.34 529.03 L179.72 527.86 L180.1 526.93 L180.48 526.18 L180.87 525.57 L181.25 525.09 L181.63 524.72 L182.01 524.45 L182.4 524.27 L182.78 524.17 L183.16 524.16 L183.54 524.22 L183.93 524.37 L184.31 524.59 L184.69 524.9 L185.08 525.29 L185.46 525.78 L185.84 526.37 L186.22 527.07 L186.61 527.91 L186.99 528.89 L187.37 530.07 L187.75 531.5 L188.14 533.25 L188.52 535.5 L188.9 538.57 L189.28 543.35 L189.67 554.54 L190.05 550.64 L190.43 542.35 L190.81 538.3 L191.2 535.67 L191.58 533.75 L191.96 532.28 L192.34 531.12 L192.73 530.19 L193.11 529.44 L193.49 528.84 L193.88 528.37 L194.26 528.01 L194.64 527.74 L195.02 527.57 L195.41 527.49 L195.79 527.49 L196.17 527.56 L196.55 527.72 L196.94 527.96 L197.32 528.28 L197.7 528.68 L198.08 529.19 L198.47 529.79 L198.85 530.5 L199.23 531.35 L199.61 532.35 L200 533.54 L200.38 534.97 L200.76 536.74 L201.14 538.99 L201.53 542.04 L201.91 546.76 L202.29 557.47 L202.68 554.77 L203.06 546.2 L203.44 542.11 L203.82 539.46 L204.21 537.55 L204.59 536.1 L204.97 534.96 L205.35 534.05 L205.74 533.32 L206.12 532.75 L206.5 532.3 L206.88 531.97 L207.27 531.73 L207.65 531.59 L208.03 531.54 L208.41 531.57 L208.8 531.68 L209.18 531.87 L209.56 532.14 L209.95 532.5 L210.33 532.95 L210.71 533.49 L211.09 534.13 L211.48 534.88 L211.86 535.77 L212.24 536.81 L212.62 538.05 L213.01 539.52 L213.39 541.33 L213.77 543.61 L214.15 546.69 L214.54 551.38 L214.92 561.71 L215.3 560.21 L215.68 551.39 L216.07 547.29 L216.45 544.69 L216.83 542.83 L217.21 541.44 L217.6 540.37 L217.98 539.54 L218.36 538.89 L218.75 538.4 L219.13 538.05 L219.51 537.81 L219.89 537.67 L220.28 537.64 L220.66 537.69 L221.04 537.83 L221.42 538.06 L221.81 538.38 L222.19 538.78 L222.57 539.28 L222.95 539.87 L223.34 540.56 L223.72 541.37 L224.1 542.3 L224.48 543.37 L224.87 544.6 L225.25 546.04 L225.63 547.73 L226.02 549.76 L226.4 552.28 L226.78 555.6 L227.16 560.5 L227.55 570.74 L227.93 570.71 L228.31 561.92 L228.69 558.16 L229.08 555.98 L229.46 554.6 L229.84 553.75 L230.22 553.3 L230.61 553.16 L230.99 553.32 L231.37 553.77 L231.75 554.52 L232.14 555.63 L232.52 557.2 L232.9 559.42 L233.28 562.75 L233.67 568.67" fill="none" stroke="#F9A81A" stroke-width="1.22" stroke-linejoin="round" clip-path="url(#clip-g)"/>
<line x1="38.15" y1="440.8" x2="234.05" y2="440.8" stroke="#262626" stroke-width="1.15"/>
<line x1="38.15" y1="591.2" x2="234.05" y2="591.2" stroke="#262626" stroke-width="1.15"/>
<line x1="77.33" y1="440.8" x2="77.33" y2="443.4" stroke="#262626" stroke-width="1"/>
<line x1="77.33" y1="591.2" x2="77.33" y2="588.6" stroke="#262626" stroke-width="1"/>
<line x1="116.51" y1="440.8" x2="116.51" y2="443.4" stroke="#262626" stroke-width="1"/>
<line x1="116.51" y1="591.2" x2="116.51" y2="588.6" stroke="#262626" stroke-width="1"/>
<line x1="155.69" y1="440.8" x2="155.69" y2="443.4" stroke="#262626" stroke-width="1"/>
<line x1="155.69" y1="591.2" x2="155.69" y2="588.6" stroke="#262626" stroke-width="1"/>
<line x1="194.87" y1="440.8" x2="194.87" y2="443.4" stroke="#262626" stroke-width="1"/>
<line x1="194.87" y1="591.2" x2="194.87" y2="588.6" stroke="#262626" stroke-width="1"/>
<line x1="38.15" y1="440.8" x2="38.15" y2="591.2" stroke="#5577E4" stroke-width="1.15" stroke-linecap="square"/>
<line x1="234.05" y1="440.8" x2="234.05" y2="591.2" stroke="#5577E4" stroke-width="1.15" stroke-linecap="square"/>
<line x1="38.15" y1="440.8" x2="40.75" y2="440.8" stroke="#5577E4" stroke-width="1.3"/>
<line x1="234.05" y1="440.8" x2="231.45" y2="440.8" stroke="#5577E4" stroke-width="1.3"/>
<line x1="38.15" y1="490.93" x2="40.75" y2="490.93" stroke="#5577E4" stroke-width="1"/>
<line x1="234.05" y1="490.93" x2="231.45" y2="490.93" stroke="#5577E4" stroke-width="1"/>
<line x1="38.15" y1="541.07" x2="40.75" y2="541.07" stroke="#5577E4" stroke-width="1"/>
<line x1="234.05" y1="541.07" x2="231.45" y2="541.07" stroke="#5577E4" stroke-width="1"/>
<line x1="38.15" y1="591.2" x2="40.75" y2="591.2" stroke="#5577E4" stroke-width="1.3"/>
<line x1="234.05" y1="591.2" x2="231.45" y2="591.2" stroke="#5577E4" stroke-width="1.3"/>
<text class="tk bk" x="38.15" y="604.2" text-anchor="middle">0</text>
<text class="tk bk" x="77.33" y="604.2" text-anchor="middle">0.2</text>
<text class="tk bk" x="116.51" y="604.2" text-anchor="middle">0.4</text>
<text class="tk bk" x="155.69" y="604.2" text-anchor="middle">0.6</text>
<text class="tk bk" x="194.87" y="604.2" text-anchor="middle">0.8</text>
<text class="tk bk" x="234.05" y="604.2" text-anchor="middle">1</text>
<text class="tk bl" x="34.75" y="444.75" text-anchor="end">0</text>
<text class="tk bl" x="34.75" y="494.88" text-anchor="end">-50</text>
<text class="tk bl" x="34.75" y="545.02" text-anchor="end">-100</text>
<text class="tk bl" x="34.75" y="595.15" text-anchor="end">-150</text>
<text class="lb bk" x="136.2" y="618.6" text-anchor="middle">Frequency</text>
<text class="lb yl bl" transform="translate(10.25 516) rotate(-90)" text-anchor="middle">Power Spectrum [dB]</text>
<rect x="167.91" y="444.75" width="62.64" height="13.1" fill="#fff" stroke="#262626" stroke-width="1.1"/>
<line x1="170.11" y1="451.4" x2="183.31" y2="451.4" stroke="#F9A81A" stroke-width="1.22"/>
<text class="lg" x="185.21" y="454.75">Blackman</text>
<text class="cp" x="129.4" y="640.5" text-anchor="middle">(g)</text>
</g>
<g id="panel-h">
<clipPath id="clip-h"><rect x="282.35" y="441.9" width="196" height="150.1"/></clipPath>
<line x1="321.55" y1="441.9" x2="321.55" y2="592" stroke="rgba(38,38,38,0.115)" stroke-width="1"/>
<line x1="360.75" y1="441.9" x2="360.75" y2="592" stroke="rgba(38,38,38,0.115)" stroke-width="1"/>
<line x1="399.95" y1="441.9" x2="399.95" y2="592" stroke="rgba(38,38,38,0.115)" stroke-width="1"/>
<line x1="439.15" y1="441.9" x2="439.15" y2="592" stroke="rgba(38,38,38,0.115)" stroke-width="1"/>
<line x1="282.35" y1="491.93" x2="478.35" y2="491.93" stroke="rgba(65,105,225,0.11)" stroke-width="1"/>
<line x1="282.35" y1="541.97" x2="478.35" y2="541.97" stroke="rgba(65,105,225,0.11)" stroke-width="1"/>
<path d="M282.35 441.9 L282.73 441.91 L283.12 441.93 L283.5 441.96 L283.88 442 L284.26 442.06 L284.65 442.14 L285.03 442.22 L285.41 442.32 L285.8 442.43 L286.18 442.56 L286.56 442.7 L286.94 442.85 L287.33 443.02 L287.71 443.2 L288.09 443.4 L288.48 443.61 L288.86 443.83 L289.24 444.07 L289.62 444.33 L290.01 444.6 L290.39 444.88 L290.77 445.19 L291.15 445.51 L291.54 445.84 L291.92 446.2 L292.3 446.57 L292.69 446.96 L293.07 447.37 L293.45 447.79 L293.83 448.24 L294.22 448.71 L294.6 449.2 L294.98 449.72 L295.37 450.25 L295.75 450.81 L296.13 451.4 L296.51 452.02 L296.9 452.66 L297.28 453.33 L297.66 454.03 L298.05 454.77 L298.43 455.54 L298.81 456.35 L299.19 457.2 L299.58 458.1 L299.96 459.04 L300.34 460.04 L300.73 461.09 L301.11 462.21 L301.49 463.39 L301.87 464.66 L302.26 466.01 L302.64 467.46 L303.02 469.03 L303.4 470.74 L303.79 472.62 L304.17 474.69 L304.55 477.03 L304.94 479.7 L305.32 482.83 L305.7 486.67 L306.08 491.7 L306.47 499.46 L306.85 612.01 L307.23 504.1 L307.62 501.5 L308 503.3 L308.38 514.62 L308.76 504.17 L309.15 495.4 L309.53 490.4 L309.91 486.85 L310.3 484.08 L310.68 481.83 L311.06 479.95 L311.44 478.34 L311.83 476.95 L312.21 475.74 L312.59 474.68 L312.98 473.74 L313.36 472.91 L313.74 472.18 L314.12 471.53 L314.51 470.96 L314.89 470.46 L315.27 470.02 L315.65 469.64 L316.04 469.32 L316.42 469.05 L316.8 468.83 L317.19 468.65 L317.57 468.52 L317.95 468.43 L318.33 468.39 L318.72 468.38 L319.1 468.42 L319.48 468.49 L319.87 468.6 L320.25 468.75 L320.63 468.94 L321.01 469.17 L321.4 469.44 L321.78 469.75 L322.16 470.09 L322.55 470.48 L322.93 470.91 L323.31 471.39 L323.69 471.91 L324.08 472.48 L324.46 473.1 L324.84 473.78 L325.23 474.51 L325.61 475.31 L325.99 476.18 L326.37 477.12 L326.76 478.14 L327.14 479.26 L327.52 480.49 L327.9 481.85 L328.29 483.35 L328.67 485.04 L329.05 486.95 L329.44 489.16 L329.82 491.79 L330.2 495.05 L330.58 499.4 L330.97 506.35 L331.35 612.01 L331.73 508.55 L332.12 503.86 L332.5 501.88 L332.88 501.23 L333.26 501.59 L333.65 503.04 L334.03 506.22 L334.41 514.41 L334.8 514.72 L335.18 504.05 L335.56 498.9 L335.94 495.41 L336.33 492.74 L336.71 490.58 L337.09 488.78 L337.48 487.23 L337.86 485.9 L338.24 484.73 L338.62 483.69 L339.01 482.78 L339.39 481.96 L339.77 481.24 L340.15 480.6 L340.54 480.03 L340.92 479.53 L341.3 479.09 L341.69 478.71 L342.07 478.38 L342.45 478.1 L342.83 477.87 L343.22 477.69 L343.6 477.55 L343.98 477.46 L344.37 477.41 L344.75 477.41 L345.13 477.44 L345.51 477.52 L345.9 477.63 L346.28 477.79 L346.66 477.99 L347.05 478.23 L347.43 478.52 L347.81 478.85 L348.19 479.23 L348.58 479.66 L348.96 480.13 L349.34 480.66 L349.73 481.25 L350.11 481.89 L350.49 482.61 L350.87 483.39 L351.26 484.26 L351.64 485.21 L352.02 486.27 L352.4 487.45 L352.79 488.76 L353.17 490.25 L353.55 491.95 L353.94 493.94 L354.32 496.32 L354.7 499.31 L355.08 503.37 L355.47 509.98 L355.85 612.01 L356.23 511.34 L356.62 506.1 L357 503.45 L357.38 501.93 L357.76 501.1 L358.15 500.78 L358.53 500.9 L358.91 501.49 L359.3 502.6 L359.68 504.46 L360.06 507.61 L360.44 514.05 L360.83 525.56 L361.21 509.52 L361.59 503.84 L361.98 500.22 L362.36 497.55 L362.74 495.42 L363.12 493.67 L363.51 492.18 L363.89 490.9 L364.27 489.78 L364.65 488.8 L365.04 487.93 L365.42 487.16 L365.8 486.48 L366.19 485.88 L366.57 485.36 L366.95 484.9 L367.33 484.5 L367.72 484.15 L368.1 483.86 L368.48 483.62 L368.87 483.44 L369.25 483.3 L369.63 483.2 L370.01 483.15 L370.4 483.15 L370.78 483.19 L371.16 483.27 L371.55 483.4 L371.93 483.57 L372.31 483.79 L372.69 484.06 L373.08 484.38 L373.46 484.74 L373.84 485.16 L374.23 485.64 L374.61 486.17 L374.99 486.77 L375.37 487.45 L375.76 488.19 L376.14 489.03 L376.52 489.97 L376.9 491.02 L377.29 492.2 L377.67 493.55 L378.05 495.12 L378.44 496.95 L378.82 499.18 L379.2 502 L379.58 505.87 L379.97 512.29M380.73 513.2 L381.12 507.7 L381.5 504.75 L381.88 502.88 L382.26 501.63 L382.65 500.82 L383.03 500.33 L383.41 500.13 L383.8 500.18 L384.18 500.48 L384.56 501.06 L384.94 501.97 L385.33 503.3 L385.71 505.23 L386.09 508.2 L386.48 513.54 L386.86 537.27 L387.24 514.02 L387.62 507.41 L388.01 503.55 L388.39 500.8 L388.77 498.66 L389.15 496.92 L389.54 495.47 L389.92 494.22 L390.3 493.15 L390.69 492.21 L391.07 491.39 L391.45 490.67 L391.83 490.04 L392.22 489.49 L392.6 489.02 L392.98 488.6 L393.37 488.26 L393.75 487.96 L394.13 487.73 L394.51 487.55 L394.9 487.41 L395.28 487.33 L395.66 487.3 L396.05 487.32 L396.43 487.38 L396.81 487.49 L397.19 487.66 L397.58 487.87 L397.96 488.14 L398.34 488.46 L398.73 488.83 L399.11 489.27 L399.49 489.77 L399.87 490.35 L400.26 491 L400.64 491.73 L401.02 492.57 L401.4 493.52 L401.79 494.6 L402.17 495.84 L402.55 497.29 L402.94 499.02 L403.32 501.12 L403.7 503.82 L404.08 507.56 L404.47 513.84 L404.85 612.01 L405.23 514.45 L405.62 508.78 L406 505.65 L406.38 503.58 L406.76 502.12 L407.15 501.05 L407.53 500.28 L407.91 499.75 L408.3 499.42 L408.68 499.26 L409.06 499.28 L409.44 499.46 L409.83 499.82 L410.21 500.37 L410.59 501.14 L410.98 502.18 L411.36 503.58 L411.74 505.5 L412.12 508.28 L412.51 512.86 L412.89 524.67 L413.27 518.43 L413.65 510.29 L414.04 506.06 L414.42 503.18 L414.8 501 L415.19 499.25 L415.57 497.81 L415.95 496.6 L416.33 495.56 L416.72 494.66 L417.1 493.89 L417.48 493.22 L417.87 492.64 L418.25 492.14 L418.63 491.72 L419.01 491.37 L419.4 491.08 L419.78 490.85 L420.16 490.68 L420.55 490.57 L420.93 490.51 L421.31 490.5 L421.69 490.55 L422.08 490.66 L422.46 490.82 L422.84 491.04 L423.23 491.32 L423.61 491.66 L423.99 492.06 L424.37 492.54 L424.76 493.1 L425.14 493.74 L425.52 494.49 L425.9 495.34 L426.29 496.33 L426.67 497.48 L427.05 498.83 L427.44 500.46 L427.82 502.47 L428.2 505.06 L428.58 508.7 L428.97 514.87 L429.35 612.01 L429.73 515.25 L430.12 509.45 L430.5 506.19 L430.88 503.99 L431.26 502.37 L431.65 501.15 L432.03 500.21 L432.41 499.48 L432.8 498.94 L433.18 498.55 L433.56 498.29 L433.94 498.17 L434.33 498.16 L434.71 498.28 L435.09 498.52 L435.48 498.89 L435.86 499.4 L436.24 500.07 L436.62 500.94 L437.01 502.05 L437.39 503.48 L437.77 505.36 L438.15 507.97 L438.54 512.01 L438.92 520.38 L439.3 523.78 L439.69 512.79 L440.07 508.04 L440.45 504.97 L440.83 502.72 L441.22 500.96 L441.6 499.52 L441.98 498.33 L442.37 497.32 L442.75 496.47 L443.13 495.74 L443.51 495.12 L443.9 494.6 L444.28 494.16 L444.66 493.8 L445.05 493.52 L445.43 493.3 L445.81 493.15 L446.19 493.07 L446.58 493.04 L446.96 493.08 L447.34 493.19 L447.73 493.35 L448.11 493.59 L448.49 493.89 L448.87 494.27 L449.26 494.73 L449.64 495.28 L450.02 495.93 L450.4 496.69 L450.79 497.59 L451.17 498.65 L451.55 499.91 L451.94 501.45 L452.32 503.36 L452.7 505.86 L453.08 509.41 L453.47 515.49 L453.85 612.01 L454.23 515.67 L454.62 509.77 L455 506.41 L455.38 504.09 L455.76 502.36 L456.15 501.02 L456.53 499.95 L456.91 499.09 L457.3 498.4 L457.68 497.86 L458.06 497.44 L458.44 497.13 L458.83 496.92 L459.21 496.81 L459.59 496.79 L459.98 496.86 L460.36 497.03 L460.74 497.29 L461.12 497.66 L461.51 498.14 L461.89 498.75 L462.27 499.51 L462.65 500.43 L463.04 501.58 L463.42 503.01 L463.8 504.85 L464.19 507.32 L464.57 510.94 L464.95 517.54 L465.33 533.76 L465.72 515.13 L466.1 509.64 L466.48 506.33 L466.87 503.98 L467.25 502.18 L467.63 500.75 L468.01 499.58 L468.4 498.61 L468.78 497.8 L469.16 497.12 L469.55 496.57 L469.93 496.11 L470.31 495.75 L470.69 495.47 L471.08 495.27 L471.46 495.15 L471.84 495.1 L472.23 495.13 L472.61 495.24 L472.99 495.42 L473.37 495.68 L473.76 496.03 L474.14 496.47 L474.52 497.02 L474.9 497.68 L475.29 498.48 L475.67 499.45 L476.05 500.62 L476.44 502.06 L476.82 503.89 L477.2 506.3 L477.58 509.76 L477.97 515.75" fill="none" stroke="#F9A81A" stroke-width="1.22" stroke-linejoin="round" clip-path="url(#clip-h)"/>
<line x1="282.35" y1="441.9" x2="478.35" y2="441.9" stroke="#262626" stroke-width="1.15"/>
<line x1="282.35" y1="592" x2="478.35" y2="592" stroke="#262626" stroke-width="1.15"/>
<line x1="321.55" y1="441.9" x2="321.55" y2="444.5" stroke="#262626" stroke-width="1"/>
<line x1="321.55" y1="592" x2="321.55" y2="589.4" stroke="#262626" stroke-width="1"/>
<line x1="360.75" y1="441.9" x2="360.75" y2="444.5" stroke="#262626" stroke-width="1"/>
<line x1="360.75" y1="592" x2="360.75" y2="589.4" stroke="#262626" stroke-width="1"/>
<line x1="399.95" y1="441.9" x2="399.95" y2="444.5" stroke="#262626" stroke-width="1"/>
<line x1="399.95" y1="592" x2="399.95" y2="589.4" stroke="#262626" stroke-width="1"/>
<line x1="439.15" y1="441.9" x2="439.15" y2="444.5" stroke="#262626" stroke-width="1"/>
<line x1="439.15" y1="592" x2="439.15" y2="589.4" stroke="#262626" stroke-width="1"/>
<line x1="282.35" y1="441.9" x2="282.35" y2="592" stroke="#5577E4" stroke-width="1.15" stroke-linecap="square"/>
<line x1="478.35" y1="441.9" x2="478.35" y2="592" stroke="#5577E4" stroke-width="1.15" stroke-linecap="square"/>
<line x1="282.35" y1="441.9" x2="284.95" y2="441.9" stroke="#5577E4" stroke-width="1.3"/>
<line x1="478.35" y1="441.9" x2="475.75" y2="441.9" stroke="#5577E4" stroke-width="1.3"/>
<line x1="282.35" y1="491.93" x2="284.95" y2="491.93" stroke="#5577E4" stroke-width="1"/>
<line x1="478.35" y1="491.93" x2="475.75" y2="491.93" stroke="#5577E4" stroke-width="1"/>
<line x1="282.35" y1="541.97" x2="284.95" y2="541.97" stroke="#5577E4" stroke-width="1"/>
<line x1="478.35" y1="541.97" x2="475.75" y2="541.97" stroke="#5577E4" stroke-width="1"/>
<line x1="282.35" y1="592" x2="284.95" y2="592" stroke="#5577E4" stroke-width="1.3"/>
<line x1="478.35" y1="592" x2="475.75" y2="592" stroke="#5577E4" stroke-width="1.3"/>
<text class="tk bk" x="282.35" y="605" text-anchor="middle">0</text>
<text class="tk bk" x="321.55" y="605" text-anchor="middle">0.2</text>
<text class="tk bk" x="360.75" y="605" text-anchor="middle">0.4</text>
<text class="tk bk" x="399.95" y="605" text-anchor="middle">0.6</text>
<text class="tk bk" x="439.15" y="605" text-anchor="middle">0.8</text>
<text class="tk bk" x="478.35" y="605" text-anchor="middle">1</text>
<text class="tk bl" x="278.95" y="445.85" text-anchor="end">0</text>
<text class="tk bl" x="278.95" y="495.88" text-anchor="end">-50</text>
<text class="tk bl" x="278.95" y="545.92" text-anchor="end">-100</text>
<text class="tk bl" x="278.95" y="595.95" text-anchor="end">-150</text>
<text class="lb bk" x="380.45" y="619.4" text-anchor="middle">Frequency</text>
<text class="lb yl bl" transform="translate(255.15 516.95) rotate(-90)" text-anchor="middle">Power Spectrum [dB]</text>
<rect x="422.22" y="445.85" width="52.63" height="13.1" fill="#fff" stroke="#262626" stroke-width="1.1"/>
<line x1="424.42" y1="452.5" x2="437.62" y2="452.5" stroke="#F9A81A" stroke-width="1.22"/>
<text class="lg" x="439.52" y="455.85">Bartlett</text>
<text class="cp" x="372.1" y="640.1" text-anchor="middle">(h)</text>
</g>
<g id="panel-i">
<clipPath id="clip-i"><rect x="525.2" y="440.8" width="195.95" height="150.4"/></clipPath>
<line x1="564.39" y1="440.8" x2="564.39" y2="591.2" stroke="rgba(38,38,38,0.115)" stroke-width="1"/>
<line x1="603.58" y1="440.8" x2="603.58" y2="591.2" stroke="rgba(38,38,38,0.115)" stroke-width="1"/>
<line x1="642.77" y1="440.8" x2="642.77" y2="591.2" stroke="rgba(38,38,38,0.115)" stroke-width="1"/>
<line x1="681.96" y1="440.8" x2="681.96" y2="591.2" stroke="rgba(38,38,38,0.115)" stroke-width="1"/>
<line x1="525.2" y1="490.93" x2="721.15" y2="490.93" stroke="rgba(65,105,225,0.11)" stroke-width="1"/>
<line x1="525.2" y1="541.07" x2="721.15" y2="541.07" stroke="rgba(65,105,225,0.11)" stroke-width="1"/>
<path d="M525.2 440.8 L525.58 440.8 L525.97 440.81 L526.35 440.83 L526.73 440.85 L527.11 440.88 L527.5 440.91 L527.88 440.95 L528.26 441 L528.64 441.05 L529.03 441.11 L529.41 441.18 L529.79 441.25 L530.18 441.33 L530.56 441.41 L530.94 441.5 L531.32 441.6 L531.71 441.7 L532.09 441.81 L532.47 441.93 L532.85 442.05 L533.24 442.18 L533.62 442.32 L534 442.46 L534.39 442.61 L534.77 442.76 L535.15 442.93 L535.53 443.09 L535.92 443.27 L536.3 443.45 L536.68 443.64 L537.06 443.84 L537.45 444.04 L537.83 444.25 L538.21 444.46 L538.6 444.68 L538.98 444.91 L539.36 445.15 L539.74 445.39 L540.13 445.64 L540.51 445.9 L540.89 446.17 L541.27 446.44 L541.66 446.72 L542.04 447.01 L542.42 447.3 L542.8 447.6 L543.19 447.91 L543.57 448.23 L543.95 448.55 L544.34 448.88 L544.72 449.22 L545.1 449.57 L545.48 449.93 L545.87 450.29 L546.25 450.67 L546.63 451.05 L547.01 451.44 L547.4 451.83 L547.78 452.24 L548.16 452.65 L548.55 453.08 L548.93 453.51 L549.31 453.95 L549.69 454.4 L550.08 454.86 L550.46 455.33 L550.84 455.81 L551.22 456.3 L551.61 456.8 L551.99 457.31 L552.37 457.82 L552.76 458.35 L553.14 458.89 L553.52 459.44 L553.9 460 L554.29 460.58 L554.67 461.16 L555.05 461.76 L555.43 462.36 L555.82 462.98 L556.2 463.62 L556.58 464.26 L556.97 464.92 L557.35 465.59 L557.73 466.27 L558.11 466.97 L558.5 467.69 L558.88 468.41 L559.26 469.16 L559.64 469.91 L560.03 470.69 L560.41 471.48 L560.79 472.29 L561.18 473.11 L561.56 473.95 L561.94 474.82 L562.32 475.7 L562.71 476.6 L563.09 477.52 L563.47 478.46 L563.85 479.43 L564.24 480.42 L564.62 481.43 L565 482.47 L565.39 483.54 L565.77 484.63 L566.15 485.76 L566.53 486.91 L566.92 488.1 L567.3 489.32 L567.68 490.57 L568.06 491.87 L568.45 493.2 L568.83 494.58 L569.21 496.01 L569.59 497.48 L569.98 499.01 L570.36 500.59 L570.74 502.23 L571.13 503.94 L571.51 505.72 L571.89 507.57 L572.27 509.51 L572.66 511.53 L573.04 513.65 L573.42 515.86 L573.8 518.17 L574.19 520.58 L574.57 523.06 L574.95 525.6 L575.34 528.14 L575.72 530.58 L576.1 532.8 L576.48 534.63 L576.87 535.95 L577.25 536.7 L577.63 536.96 L578.01 536.89 L578.4 536.65 L578.78 536.38 L579.16 536.17 L579.55 536.09 L579.93 536.18 L580.31 536.49 L580.69 537.05 L581.08 537.93 L581.46 539.2 L581.84 541.04 L582.22 543.79 L582.61 548.43 L582.99 560.74 L583.37 553.61 L583.76 545.7 L584.14 541.61 L584.52 538.88 L584.9 536.86 L585.29 535.31 L585.67 534.1 L586.05 533.13 L586.43 532.37 L586.82 531.79 L587.2 531.36 L587.58 531.07 L587.97 530.91 L588.35 530.88 L588.73 530.97 L589.11 531.19 L589.5 531.53 L589.88 532.02 L590.26 532.67 L590.64 533.5 L591.03 534.55 L591.41 535.87 L591.79 537.58 L592.18 539.86 L592.56 543.12 L592.94 548.6 L593.32 568 L593.71 550.68 L594.09 544.1 L594.47 540.46 L594.85 537.97 L595.24 536.11 L595.62 534.67 L596 533.51 L596.38 532.57 L596.77 531.81 L597.15 531.2 L597.53 530.72 L597.92 530.35 L598.3 530.08 L598.68 529.91 L599.06 529.83 L599.45 529.84 L599.83 529.94 L600.21 530.13 L600.59 530.42 L600.98 530.8 L601.36 531.29 L601.74 531.9 L602.13 532.64 L602.51 533.54 L602.89 534.64 L603.27 535.99 L603.66 537.69 L604.04 539.89 L604.42 542.95 L604.8 547.84 L605.19 560.28 L605.57 553.53 L605.95 545.74 L606.34 541.75 L606.72 539.09 L607.1 537.12 L607.48 535.59 L607.87 534.36 L608.25 533.35 L608.63 532.52 L609.01 531.83 L609.4 531.27 L609.78 530.81 L610.16 530.45 L610.55 530.18 L610.93 529.99 L611.31 529.88 L611.69 529.84 L612.08 529.88 L612.46 529.99 L612.84 530.18 L613.22 530.45 L613.61 530.79 L613.99 531.23 L614.37 531.77 L614.76 532.42 L615.14 533.2 L615.52 534.13 L615.9 535.24 L616.29 536.61 L616.67 538.3 L617.05 540.49 L617.43 543.5 L617.82 548.24 L618.2 559.63 L618.58 555.04 L618.97 546.8 L619.35 542.7 L619.73 539.99 L620.11 537.98 L620.5 536.42 L620.88 535.16 L621.26 534.13 L621.64 533.28 L622.03 532.57 L622.41 531.98 L622.79 531.5 L623.17 531.11 L623.56 530.81 L623.94 530.59 L624.32 530.45 L624.71 530.38 L625.09 530.38 L625.47 530.45 L625.85 530.6 L626.24 530.82 L626.62 531.12 L627 531.5 L627.38 531.97 L627.77 532.55 L628.15 533.24 L628.53 534.07 L628.92 535.07 L629.3 536.27 L629.68 537.74 L630.06 539.61 L630.45 542.06 L630.83 545.6 L631.21 551.78 L631.59 579.97 L631.98 551.14 L632.36 545.31 L632.74 541.9 L633.13 539.52 L633.51 537.71 L633.89 536.27 L634.27 535.11 L634.66 534.15 L635.04 533.35 L635.42 532.68 L635.8 532.13 L636.19 531.68 L636.57 531.33 L636.95 531.06 L637.34 530.87 L637.72 530.75 L638.1 530.71 L638.48 530.74 L638.87 530.84 L639.25 531.02 L639.63 531.28 L640.01 531.62 L640.4 532.05 L640.78 532.58 L641.16 533.22 L641.55 533.99 L641.93 534.92 L642.31 536.04 L642.69 537.42 L643.08 539.13 L643.46 541.37 L643.84 544.48 L644.22 549.5 L644.61 563.02 L644.99 554.28 L645.37 546.81 L645.76 542.9 L646.14 540.27 L646.52 538.31 L646.9 536.77 L647.29 535.53 L647.67 534.51 L648.05 533.66 L648.43 532.96 L648.82 532.38 L649.2 531.91 L649.58 531.53 L649.97 531.24 L650.35 531.03 L650.73 530.9 L651.11 530.84 L651.5 530.86 L651.88 530.96 L652.26 531.13 L652.64 531.39 L653.03 531.72 L653.41 532.15 L653.79 532.69 L654.17 533.33 L654.56 534.12 L654.94 535.06 L655.32 536.2 L655.71 537.6 L656.09 539.37 L656.47 541.69 L656.85 544.96 L657.24 550.4 L657.62 568.67 L658 552.84 L658.38 546.16 L658.77 542.47 L659.15 539.95 L659.53 538.05 L659.92 536.56 L660.3 535.35 L660.68 534.36 L661.06 533.54 L661.45 532.86 L661.83 532.3 L662.21 531.84 L662.59 531.48 L662.98 531.21 L663.36 531.02 L663.74 530.91 L664.13 530.88 L664.51 530.92 L664.89 531.04 L665.27 531.25 L665.66 531.53 L666.04 531.9 L666.42 532.37 L666.8 532.95 L667.19 533.66 L667.57 534.51 L667.95 535.54 L668.34 536.79 L668.72 538.35 L669.1 540.35 L669.48 543.05 L669.87 547.11 L670.25 555.15 L670.63 560.74 L671.01 548.91 L671.4 544.11 L671.78 541.09 L672.16 538.91 L672.55 537.23 L672.93 535.89 L673.31 534.8 L673.69 533.9 L674.08 533.15 L674.46 532.53 L674.84 532.03 L675.22 531.63 L675.61 531.32 L675.99 531.09 L676.37 530.95 L676.76 530.89 L677.14 530.9 L677.52 531 L677.9 531.17 L678.29 531.42 L678.67 531.77 L679.05 532.21 L679.43 532.75 L679.82 533.42 L680.2 534.23 L680.58 535.2 L680.96 536.39 L681.35 537.85 L681.73 539.72 L682.11 542.19 L682.5 545.77 L682.88 552.13 L683.26 573.61 L683.64 550.77 L684.03 545.1 L684.41 541.74 L684.79 539.39 L685.17 537.6 L685.56 536.18 L685.94 535.03 L686.32 534.08 L686.71 533.3 L687.09 532.65 L687.47 532.12 L687.85 531.7 L688.24 531.37 L688.62 531.13 L689 530.97 L689.38 530.9 L689.77 530.9 L690.15 530.98 L690.53 531.14 L690.92 531.38 L691.3 531.71 L691.68 532.14 L692.06 532.67 L692.45 533.32 L692.83 534.11 L693.21 535.06 L693.59 536.22 L693.98 537.65 L694.36 539.46 L694.74 541.86 L695.13 545.28 L695.51 551.16 L695.89 582.88 L696.27 551.63 L696.66 545.51 L697.04 542.01 L697.42 539.57 L697.8 537.74 L698.19 536.29 L698.57 535.11 L698.95 534.15 L699.34 533.35 L699.72 532.69 L700.1 532.16 L700.48 531.72 L700.87 531.39 L701.25 531.14 L701.63 530.98 L702.01 530.9 L702.4 530.89 L702.78 530.97 L703.16 531.13 L703.55 531.37 L703.93 531.7 L704.31 532.12 L704.69 532.65 L705.08 533.3 L705.46 534.08 L705.84 535.03 L706.22 536.19 L706.61 537.62 L706.99 539.43 L707.37 541.81 L707.75 545.23 L708.14 551.07 L708.52 580.36 L708.9 551.69 L709.29 545.53 L709.67 542.01 L710.05 539.57 L710.43 537.73 L710.82 536.28 L711.2 535.11 L711.58 534.14 L711.96 533.35 L712.35 532.69 L712.73 532.15 L713.11 531.72 L713.5 531.39 L713.88 531.14 L714.26 530.98 L714.64 530.9 L715.03 530.89 L715.41 530.97 L715.79 531.13 L716.17 531.37 L716.56 531.7 L716.94 532.13 L717.32 532.66 L717.71 533.32 L718.09 534.11 L718.47 535.07 L718.85 536.23 L719.24 537.67 L719.62 539.49 L720 541.91 L720.38 545.37 L720.77 551.37" fill="none" stroke="#F9A81A" stroke-width="1.22" stroke-linejoin="round" clip-path="url(#clip-i)"/>
<line x1="525.2" y1="440.8" x2="721.15" y2="440.8" stroke="#262626" stroke-width="1.15"/>
<line x1="525.2" y1="591.2" x2="721.15" y2="591.2" stroke="#262626" stroke-width="1.15"/>
<line x1="564.39" y1="440.8" x2="564.39" y2="443.4" stroke="#262626" stroke-width="1"/>
<line x1="564.39" y1="591.2" x2="564.39" y2="588.6" stroke="#262626" stroke-width="1"/>
<line x1="603.58" y1="440.8" x2="603.58" y2="443.4" stroke="#262626" stroke-width="1"/>
<line x1="603.58" y1="591.2" x2="603.58" y2="588.6" stroke="#262626" stroke-width="1"/>
<line x1="642.77" y1="440.8" x2="642.77" y2="443.4" stroke="#262626" stroke-width="1"/>
<line x1="642.77" y1="591.2" x2="642.77" y2="588.6" stroke="#262626" stroke-width="1"/>
<line x1="681.96" y1="440.8" x2="681.96" y2="443.4" stroke="#262626" stroke-width="1"/>
<line x1="681.96" y1="591.2" x2="681.96" y2="588.6" stroke="#262626" stroke-width="1"/>
<line x1="525.2" y1="440.8" x2="525.2" y2="591.2" stroke="#5577E4" stroke-width="1.15" stroke-linecap="square"/>
<line x1="721.15" y1="440.8" x2="721.15" y2="591.2" stroke="#5577E4" stroke-width="1.15" stroke-linecap="square"/>
<line x1="525.2" y1="440.8" x2="527.8" y2="440.8" stroke="#5577E4" stroke-width="1.3"/>
<line x1="721.15" y1="440.8" x2="718.55" y2="440.8" stroke="#5577E4" stroke-width="1.3"/>
<line x1="525.2" y1="490.93" x2="527.8" y2="490.93" stroke="#5577E4" stroke-width="1"/>
<line x1="721.15" y1="490.93" x2="718.55" y2="490.93" stroke="#5577E4" stroke-width="1"/>
<line x1="525.2" y1="541.07" x2="527.8" y2="541.07" stroke="#5577E4" stroke-width="1"/>
<line x1="721.15" y1="541.07" x2="718.55" y2="541.07" stroke="#5577E4" stroke-width="1"/>
<line x1="525.2" y1="591.2" x2="527.8" y2="591.2" stroke="#5577E4" stroke-width="1.3"/>
<line x1="721.15" y1="591.2" x2="718.55" y2="591.2" stroke="#5577E4" stroke-width="1.3"/>
<text class="tk bk" x="525.2" y="604.2" text-anchor="middle">0</text>
<text class="tk bk" x="564.39" y="604.2" text-anchor="middle">0.2</text>
<text class="tk bk" x="603.58" y="604.2" text-anchor="middle">0.4</text>
<text class="tk bk" x="642.77" y="604.2" text-anchor="middle">0.6</text>
<text class="tk bk" x="681.96" y="604.2" text-anchor="middle">0.8</text>
<text class="tk bk" x="721.15" y="604.2" text-anchor="middle">1</text>
<text class="tk bl" x="521.8" y="444.75" text-anchor="end">0</text>
<text class="tk bl" x="521.8" y="494.88" text-anchor="end">-50</text>
<text class="tk bl" x="521.8" y="545.02" text-anchor="end">-100</text>
<text class="tk bl" x="521.8" y="595.15" text-anchor="end">-150</text>
<text class="lb bk" x="623.27" y="618.6" text-anchor="middle">Frequency</text>
<text class="lb yl bl" transform="translate(497.3 516) rotate(-90)" text-anchor="middle">Power Spectrum [dB]</text>
<rect x="668.35" y="444.75" width="49.3" height="13.1" fill="#fff" stroke="#262626" stroke-width="1.1"/>
<line x1="670.55" y1="451.4" x2="683.75" y2="451.4" stroke="#F9A81A" stroke-width="1.22"/>
<text class="lg" x="685.65" y="454.75">Nuttall</text>
<text class="cp" x="616.2" y="638.7" text-anchor="middle">(i)</text>
</g>
</svg></body></html>
